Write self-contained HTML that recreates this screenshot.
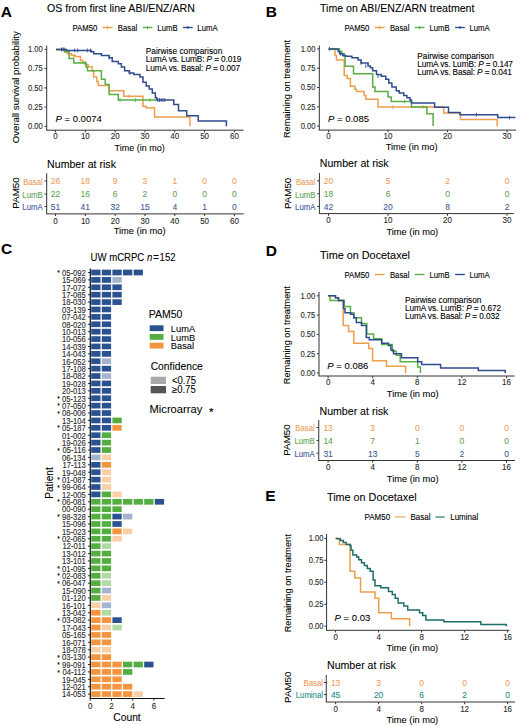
<!DOCTYPE html>
<html><head><meta charset="utf-8"><style>
html,body{margin:0;padding:0;background:#fff;}
svg{display:block;font-family:"Liberation Sans", sans-serif;}
</style></head><body>
<svg width="520" height="726" viewBox="0 0 520 726">
<rect width="520" height="726" fill="#fff"/>
<text x="0.8" y="16.5" font-size="15.5" fill="#000" stroke="#000" stroke-width="0.08" text-anchor="start" font-weight="bold" >A</text>
<text x="47.1" y="11.5" font-size="10.6" fill="#000" stroke="#000" stroke-width="0.08" text-anchor="start" font-weight="normal" >OS from first line ABI/ENZ/ARN</text>
<text transform="translate(72.4,30.508) scale(1,1.12)" x="0" y="0" font-size="7.8" fill="#000" stroke="#000" stroke-width="0.1" text-anchor="start" font-weight="normal" >PAM50</text>
<line x1="102.7" y1="27.5" x2="112.4" y2="27.5" stroke="#EE9E4C" stroke-width="1.4"/>
<line x1="107.55" y1="25.9" x2="107.55" y2="29.1" stroke="#EE9E4C" stroke-width="1.0"/>
<text transform="translate(117.8,30.508) scale(1,1.12)" x="0" y="0" font-size="7.8" fill="#000" stroke="#000" stroke-width="0.1" text-anchor="start" font-weight="normal" >Basal</text>
<line x1="142.7" y1="27.5" x2="152.39999999999998" y2="27.5" stroke="#58AF44" stroke-width="1.4"/>
<line x1="147.54999999999998" y1="25.9" x2="147.54999999999998" y2="29.1" stroke="#58AF44" stroke-width="1.0"/>
<text transform="translate(157.3,30.508) scale(1,1.12)" x="0" y="0" font-size="7.8" fill="#000" stroke="#000" stroke-width="0.1" text-anchor="start" font-weight="normal" >LumB</text>
<line x1="183.0" y1="27.5" x2="192.7" y2="27.5" stroke="#2F4C8E" stroke-width="1.4"/>
<line x1="187.85" y1="25.9" x2="187.85" y2="29.1" stroke="#2F4C8E" stroke-width="1.0"/>
<text transform="translate(197.3,30.508) scale(1,1.12)" x="0" y="0" font-size="7.8" fill="#000" stroke="#000" stroke-width="0.1" text-anchor="start" font-weight="normal" >LumA</text>
<text transform="translate(19.0,87.2) rotate(-90)" font-size="9.6" fill="#000" stroke="#000" stroke-width="0.08" text-anchor="middle">Overall survival probability</text>
<line x1="46.7" y1="45.5" x2="46.7" y2="130.2" stroke="#333333" stroke-width="1.0"/>
<line x1="44.5" y1="49.4" x2="46.7" y2="49.4" stroke="#333333" stroke-width="1.0"/>
<text transform="translate(42.7,52.236) scale(1,1.12)" x="0" y="0" font-size="7.6" fill="#2A2A2A" stroke="#2A2A2A" stroke-width="0.1" text-anchor="end" font-weight="normal" >1.00</text>
<line x1="44.5" y1="68.65" x2="46.7" y2="68.65" stroke="#333333" stroke-width="1.0"/>
<text transform="translate(42.7,71.486) scale(1,1.12)" x="0" y="0" font-size="7.6" fill="#2A2A2A" stroke="#2A2A2A" stroke-width="0.1" text-anchor="end" font-weight="normal" >0.75</text>
<line x1="44.5" y1="87.9" x2="46.7" y2="87.9" stroke="#333333" stroke-width="1.0"/>
<text transform="translate(42.7,90.736) scale(1,1.12)" x="0" y="0" font-size="7.6" fill="#2A2A2A" stroke="#2A2A2A" stroke-width="0.1" text-anchor="end" font-weight="normal" >0.50</text>
<line x1="44.5" y1="107.15" x2="46.7" y2="107.15" stroke="#333333" stroke-width="1.0"/>
<text transform="translate(42.7,109.986) scale(1,1.12)" x="0" y="0" font-size="7.6" fill="#2A2A2A" stroke="#2A2A2A" stroke-width="0.1" text-anchor="end" font-weight="normal" >0.25</text>
<line x1="44.5" y1="126.4" x2="46.7" y2="126.4" stroke="#333333" stroke-width="1.0"/>
<text transform="translate(42.7,129.236) scale(1,1.12)" x="0" y="0" font-size="7.6" fill="#2A2A2A" stroke="#2A2A2A" stroke-width="0.1" text-anchor="end" font-weight="normal" >0.00</text>
<line x1="46.2" y1="130.2" x2="243.5" y2="130.2" stroke="#333333" stroke-width="1.0"/>
<line x1="55.5" y1="130.2" x2="55.5" y2="132.39999999999998" stroke="#333333" stroke-width="1.0"/>
<text transform="translate(55.5,139.28) scale(1,1.12)" x="0" y="0" font-size="8" fill="#2A2A2A" stroke="#2A2A2A" stroke-width="0.1" text-anchor="middle" font-weight="normal" >0</text>
<line x1="85.32" y1="130.2" x2="85.32" y2="132.39999999999998" stroke="#333333" stroke-width="1.0"/>
<text transform="translate(85.32,139.28) scale(1,1.12)" x="0" y="0" font-size="8" fill="#2A2A2A" stroke="#2A2A2A" stroke-width="0.1" text-anchor="middle" font-weight="normal" >10</text>
<line x1="115.14" y1="130.2" x2="115.14" y2="132.39999999999998" stroke="#333333" stroke-width="1.0"/>
<text transform="translate(115.14,139.28) scale(1,1.12)" x="0" y="0" font-size="8" fill="#2A2A2A" stroke="#2A2A2A" stroke-width="0.1" text-anchor="middle" font-weight="normal" >20</text>
<line x1="144.96" y1="130.2" x2="144.96" y2="132.39999999999998" stroke="#333333" stroke-width="1.0"/>
<text transform="translate(144.96,139.28) scale(1,1.12)" x="0" y="0" font-size="8" fill="#2A2A2A" stroke="#2A2A2A" stroke-width="0.1" text-anchor="middle" font-weight="normal" >30</text>
<line x1="174.78" y1="130.2" x2="174.78" y2="132.39999999999998" stroke="#333333" stroke-width="1.0"/>
<text transform="translate(174.78,139.28) scale(1,1.12)" x="0" y="0" font-size="8" fill="#2A2A2A" stroke="#2A2A2A" stroke-width="0.1" text-anchor="middle" font-weight="normal" >40</text>
<line x1="204.6" y1="130.2" x2="204.6" y2="132.39999999999998" stroke="#333333" stroke-width="1.0"/>
<text transform="translate(204.6,139.28) scale(1,1.12)" x="0" y="0" font-size="8" fill="#2A2A2A" stroke="#2A2A2A" stroke-width="0.1" text-anchor="middle" font-weight="normal" >50</text>
<line x1="234.42000000000002" y1="130.2" x2="234.42000000000002" y2="132.39999999999998" stroke="#333333" stroke-width="1.0"/>
<text transform="translate(234.42000000000002,139.28) scale(1,1.12)" x="0" y="0" font-size="8" fill="#2A2A2A" stroke="#2A2A2A" stroke-width="0.1" text-anchor="middle" font-weight="normal" >60</text>
<text transform="translate(139.6,150.5) scale(1,1.06)" x="0" y="0" font-size="9" fill="#000" stroke="#000" stroke-width="0.08" text-anchor="middle" font-weight="normal" >Time (in mo)</text>
<text transform="translate(145.8,53.8) scale(1,1.12)" x="0" y="0" font-size="8.3" fill="#000" stroke="#000" stroke-width="0.1" text-anchor="start" font-weight="normal" >Pairwise comparison</text>
<text transform="translate(145.8,62.3) scale(1,1.12)" x="0" y="0" font-size="8.3" fill="#000" stroke="#000" stroke-width="0.1" text-anchor="start" font-weight="normal" textLength="95.5">LumA vs. LumB: <tspan font-style="italic">P</tspan> = 0.019</text>
<text transform="translate(145.8,70.8) scale(1,1.12)" x="0" y="0" font-size="8.3" fill="#000" stroke="#000" stroke-width="0.1" text-anchor="start" font-weight="normal" textLength="94.3">LumA vs. Basal: <tspan font-style="italic">P</tspan> = 0.007</text>
<text x="55.5" y="122.3" font-size="9.5" fill="#000" stroke="#000" stroke-width="0.08" text-anchor="start" font-weight="normal" ><tspan font-style="italic">P</tspan> = 0.0074</text>
<path d="M56,49.4 H65.5 V52.3 H67.5 V53.8 H71.5 V55.2 H75.2 V56.4 H80.4 V60.4 H82.5 V62.2 H85.5 V64.5 H88 V66.8 H92.2 V71 H93.7 V77 H96.8 V81.5 H98.3 V85.4 H109.1 V90.8 H123.8 V96.2 H143 V106.2 H146.2 V107.7 H154.6 V116.9 H190 V126.2" fill="none" stroke="#EE9E4C" stroke-width="1.5" stroke-linejoin="miter"/>
<path d="M56,49.4 H64.5 V51.5 H69.1 V58.5 H73.7 V63 H86 V67 H87.5 V70.8 H101.4 V79.2 H105.2 V84.6 H109.1 V94.6 H118.3 V100 H156" fill="none" stroke="#58AF44" stroke-width="1.5" stroke-linejoin="miter"/>
<path d="M56,49.4 H66.5 V50.4 H91.2 V51.8 H93.7 V53.8 H101.4 V55.4 H109.1 V57.7 H112.2 V61.5 H118.3 V63.8 H121.4 V67 H124.6 V70.8 H129.2 V73 H133.8 V74.6 H140 V77 H143 V82.3 H146.2 V86 H149.2 V89 H152.3 V93 H155.4 V97.7 H156.9 V100 H173.8 V104.6 H178.5 V110.7 H186.7 V115.7 H198.2 V121 H226.4 V126.2" fill="none" stroke="#2F4C8E" stroke-width="1.5" stroke-linejoin="miter"/>
<line x1="61.5" y1="47.5" x2="61.5" y2="51.3" stroke="#2F4C8E" stroke-width="0.9"/>
<line x1="63.1" y1="47.5" x2="63.1" y2="51.3" stroke="#2F4C8E" stroke-width="0.9"/>
<line x1="64.2" y1="47.5" x2="64.2" y2="51.3" stroke="#2F4C8E" stroke-width="0.9"/>
<line x1="74.6" y1="48.5" x2="74.6" y2="52.3" stroke="#2F4C8E" stroke-width="0.9"/>
<line x1="77.7" y1="48.5" x2="77.7" y2="52.3" stroke="#2F4C8E" stroke-width="0.9"/>
<line x1="87.3" y1="48.5" x2="87.3" y2="52.3" stroke="#2F4C8E" stroke-width="0.9"/>
<line x1="90.4" y1="48.5" x2="90.4" y2="52.3" stroke="#2F4C8E" stroke-width="0.9"/>
<line x1="109.1" y1="55.800000000000004" x2="109.1" y2="59.6" stroke="#2F4C8E" stroke-width="0.9"/>
<line x1="130" y1="71.1" x2="130" y2="74.9" stroke="#2F4C8E" stroke-width="0.9"/>
<line x1="157.8" y1="98.1" x2="157.8" y2="101.9" stroke="#2F4C8E" stroke-width="0.9"/>
<line x1="159.5" y1="98.1" x2="159.5" y2="101.9" stroke="#2F4C8E" stroke-width="0.9"/>
<line x1="161.2" y1="98.1" x2="161.2" y2="101.9" stroke="#2F4C8E" stroke-width="0.9"/>
<line x1="163" y1="98.1" x2="163" y2="101.9" stroke="#2F4C8E" stroke-width="0.9"/>
<line x1="164.8" y1="98.1" x2="164.8" y2="101.9" stroke="#2F4C8E" stroke-width="0.9"/>
<line x1="73.5" y1="55.1" x2="73.5" y2="58.9" stroke="#EE9E4C" stroke-width="0.9"/>
<line x1="129" y1="94.3" x2="129" y2="98.10000000000001" stroke="#EE9E4C" stroke-width="0.9"/>
<line x1="85" y1="61.1" x2="85" y2="64.9" stroke="#58AF44" stroke-width="0.9"/>
<line x1="120" y1="98.1" x2="120" y2="101.9" stroke="#58AF44" stroke-width="0.9"/>
<line x1="135.4" y1="98.1" x2="135.4" y2="101.9" stroke="#58AF44" stroke-width="0.9"/>
<line x1="150" y1="98.1" x2="150" y2="101.9" stroke="#58AF44" stroke-width="0.9"/>
<line x1="329.5" y1="47.0" x2="329.5" y2="50.8" stroke="#2F4C8E" stroke-width="0.9"/>
<line x1="340.4" y1="51.9" x2="340.4" y2="55.699999999999996" stroke="#2F4C8E" stroke-width="0.9"/>
<line x1="361" y1="61.1" x2="361" y2="64.9" stroke="#2F4C8E" stroke-width="0.9"/>
<line x1="365.8" y1="64.1" x2="365.8" y2="67.9" stroke="#2F4C8E" stroke-width="0.9"/>
<line x1="378" y1="74.3" x2="378" y2="78.10000000000001" stroke="#2F4C8E" stroke-width="0.9"/>
<line x1="476.5" y1="112.8" x2="476.5" y2="116.60000000000001" stroke="#2F4C8E" stroke-width="0.9"/>
<line x1="509.5" y1="115.69999999999999" x2="509.5" y2="119.5" stroke="#2F4C8E" stroke-width="0.9"/>
<line x1="393" y1="105.0" x2="393" y2="108.80000000000001" stroke="#EE9E4C" stroke-width="0.9"/>
<line x1="423" y1="105.0" x2="423" y2="108.80000000000001" stroke="#EE9E4C" stroke-width="0.9"/>
<line x1="339.6" y1="49.6" x2="339.6" y2="53.4" stroke="#58AF44" stroke-width="0.9"/>
<line x1="404.6" y1="99.6" x2="404.6" y2="103.4" stroke="#58AF44" stroke-width="0.9"/>
<text x="47.1" y="167.5" font-size="10.6" fill="#000" stroke="#000" stroke-width="0.08" text-anchor="start" font-weight="normal" >Number at risk</text>
<line x1="46.7" y1="173.3" x2="46.7" y2="213.9" stroke="#333333" stroke-width="1.0"/>
<line x1="46.2" y1="213.9" x2="243.7" y2="213.9" stroke="#333333" stroke-width="1.0"/>
<line x1="44.5" y1="181" x2="46.7" y2="181" stroke="#333333" stroke-width="1.0"/>
<text transform="translate(42.7,184.95) scale(1,1.12)" x="0" y="0" font-size="7.8" fill="#EE9E5C" stroke="#EE9E5C" stroke-width="0.1" text-anchor="end" font-weight="normal" >Basal</text>
<text transform="translate(55.5,184.4) scale(1,1.12)" x="0" y="0" font-size="8.5" fill="#EE9E5C" stroke="#EE9E5C" stroke-width="0.1" text-anchor="middle" font-weight="normal" >26</text>
<text transform="translate(85.32,184.4) scale(1,1.12)" x="0" y="0" font-size="8.5" fill="#EE9E5C" stroke="#EE9E5C" stroke-width="0.1" text-anchor="middle" font-weight="normal" >18</text>
<text transform="translate(115.14,184.4) scale(1,1.12)" x="0" y="0" font-size="8.5" fill="#EE9E5C" stroke="#EE9E5C" stroke-width="0.1" text-anchor="middle" font-weight="normal" >9</text>
<text transform="translate(144.96,184.4) scale(1,1.12)" x="0" y="0" font-size="8.5" fill="#EE9E5C" stroke="#EE9E5C" stroke-width="0.1" text-anchor="middle" font-weight="normal" >3</text>
<text transform="translate(174.78,184.4) scale(1,1.12)" x="0" y="0" font-size="8.5" fill="#EE9E5C" stroke="#EE9E5C" stroke-width="0.1" text-anchor="middle" font-weight="normal" >1</text>
<text transform="translate(204.6,184.4) scale(1,1.12)" x="0" y="0" font-size="8.5" fill="#EE9E5C" stroke="#EE9E5C" stroke-width="0.1" text-anchor="middle" font-weight="normal" >0</text>
<text transform="translate(234.42000000000002,184.4) scale(1,1.12)" x="0" y="0" font-size="8.5" fill="#EE9E5C" stroke="#EE9E5C" stroke-width="0.1" text-anchor="middle" font-weight="normal" >0</text>
<line x1="44.5" y1="194" x2="46.7" y2="194" stroke="#333333" stroke-width="1.0"/>
<text transform="translate(42.7,197.95) scale(1,1.12)" x="0" y="0" font-size="7.8" fill="#63A653" stroke="#63A653" stroke-width="0.1" text-anchor="end" font-weight="normal" >LumB</text>
<text transform="translate(55.5,197.4) scale(1,1.12)" x="0" y="0" font-size="8.5" fill="#63A653" stroke="#63A653" stroke-width="0.1" text-anchor="middle" font-weight="normal" >22</text>
<text transform="translate(85.32,197.4) scale(1,1.12)" x="0" y="0" font-size="8.5" fill="#63A653" stroke="#63A653" stroke-width="0.1" text-anchor="middle" font-weight="normal" >16</text>
<text transform="translate(115.14,197.4) scale(1,1.12)" x="0" y="0" font-size="8.5" fill="#63A653" stroke="#63A653" stroke-width="0.1" text-anchor="middle" font-weight="normal" >6</text>
<text transform="translate(144.96,197.4) scale(1,1.12)" x="0" y="0" font-size="8.5" fill="#63A653" stroke="#63A653" stroke-width="0.1" text-anchor="middle" font-weight="normal" >2</text>
<text transform="translate(174.78,197.4) scale(1,1.12)" x="0" y="0" font-size="8.5" fill="#63A653" stroke="#63A653" stroke-width="0.1" text-anchor="middle" font-weight="normal" >0</text>
<text transform="translate(204.6,197.4) scale(1,1.12)" x="0" y="0" font-size="8.5" fill="#63A653" stroke="#63A653" stroke-width="0.1" text-anchor="middle" font-weight="normal" >0</text>
<text transform="translate(234.42000000000002,197.4) scale(1,1.12)" x="0" y="0" font-size="8.5" fill="#63A653" stroke="#63A653" stroke-width="0.1" text-anchor="middle" font-weight="normal" >0</text>
<line x1="44.5" y1="206.5" x2="46.7" y2="206.5" stroke="#333333" stroke-width="1.0"/>
<text transform="translate(42.7,210.45) scale(1,1.12)" x="0" y="0" font-size="7.8" fill="#3F5C98" stroke="#3F5C98" stroke-width="0.1" text-anchor="end" font-weight="normal" >LumA</text>
<text transform="translate(55.5,209.9) scale(1,1.12)" x="0" y="0" font-size="8.5" fill="#3F5C98" stroke="#3F5C98" stroke-width="0.1" text-anchor="middle" font-weight="normal" >51</text>
<text transform="translate(85.32,209.9) scale(1,1.12)" x="0" y="0" font-size="8.5" fill="#3F5C98" stroke="#3F5C98" stroke-width="0.1" text-anchor="middle" font-weight="normal" >41</text>
<text transform="translate(115.14,209.9) scale(1,1.12)" x="0" y="0" font-size="8.5" fill="#3F5C98" stroke="#3F5C98" stroke-width="0.1" text-anchor="middle" font-weight="normal" >32</text>
<text transform="translate(144.96,209.9) scale(1,1.12)" x="0" y="0" font-size="8.5" fill="#3F5C98" stroke="#3F5C98" stroke-width="0.1" text-anchor="middle" font-weight="normal" >15</text>
<text transform="translate(174.78,209.9) scale(1,1.12)" x="0" y="0" font-size="8.5" fill="#3F5C98" stroke="#3F5C98" stroke-width="0.1" text-anchor="middle" font-weight="normal" >4</text>
<text transform="translate(204.6,209.9) scale(1,1.12)" x="0" y="0" font-size="8.5" fill="#3F5C98" stroke="#3F5C98" stroke-width="0.1" text-anchor="middle" font-weight="normal" >1</text>
<text transform="translate(234.42000000000002,209.9) scale(1,1.12)" x="0" y="0" font-size="8.5" fill="#3F5C98" stroke="#3F5C98" stroke-width="0.1" text-anchor="middle" font-weight="normal" >0</text>
<text transform="translate(19.0,193) rotate(-90)" font-size="9.8" fill="#000" stroke="#000" stroke-width="0.08" text-anchor="middle">PAM50</text>
<line x1="55.5" y1="213.9" x2="55.5" y2="216.1" stroke="#333333" stroke-width="1.0"/>
<text transform="translate(55.5,223.88) scale(1,1.12)" x="0" y="0" font-size="8" fill="#2A2A2A" stroke="#2A2A2A" stroke-width="0.1" text-anchor="middle" font-weight="normal" >0</text>
<line x1="85.32" y1="213.9" x2="85.32" y2="216.1" stroke="#333333" stroke-width="1.0"/>
<text transform="translate(85.32,223.88) scale(1,1.12)" x="0" y="0" font-size="8" fill="#2A2A2A" stroke="#2A2A2A" stroke-width="0.1" text-anchor="middle" font-weight="normal" >10</text>
<line x1="115.14" y1="213.9" x2="115.14" y2="216.1" stroke="#333333" stroke-width="1.0"/>
<text transform="translate(115.14,223.88) scale(1,1.12)" x="0" y="0" font-size="8" fill="#2A2A2A" stroke="#2A2A2A" stroke-width="0.1" text-anchor="middle" font-weight="normal" >20</text>
<line x1="144.96" y1="213.9" x2="144.96" y2="216.1" stroke="#333333" stroke-width="1.0"/>
<text transform="translate(144.96,223.88) scale(1,1.12)" x="0" y="0" font-size="8" fill="#2A2A2A" stroke="#2A2A2A" stroke-width="0.1" text-anchor="middle" font-weight="normal" >30</text>
<line x1="174.78" y1="213.9" x2="174.78" y2="216.1" stroke="#333333" stroke-width="1.0"/>
<text transform="translate(174.78,223.88) scale(1,1.12)" x="0" y="0" font-size="8" fill="#2A2A2A" stroke="#2A2A2A" stroke-width="0.1" text-anchor="middle" font-weight="normal" >40</text>
<line x1="204.6" y1="213.9" x2="204.6" y2="216.1" stroke="#333333" stroke-width="1.0"/>
<text transform="translate(204.6,223.88) scale(1,1.12)" x="0" y="0" font-size="8" fill="#2A2A2A" stroke="#2A2A2A" stroke-width="0.1" text-anchor="middle" font-weight="normal" >50</text>
<line x1="234.42000000000002" y1="213.9" x2="234.42000000000002" y2="216.1" stroke="#333333" stroke-width="1.0"/>
<text transform="translate(234.42000000000002,223.88) scale(1,1.12)" x="0" y="0" font-size="8" fill="#2A2A2A" stroke="#2A2A2A" stroke-width="0.1" text-anchor="middle" font-weight="normal" >60</text>
<text transform="translate(139.6,234.3) scale(1,1.06)" x="0" y="0" font-size="9.3" fill="#000" stroke="#000" stroke-width="0.08" text-anchor="middle" font-weight="normal" >Time (in mo)</text>
<text x="265.8" y="16.5" font-size="15.5" fill="#000" stroke="#000" stroke-width="0.08" text-anchor="start" font-weight="bold" >B</text>
<text x="320" y="11.5" font-size="10.6" fill="#000" stroke="#000" stroke-width="0.08" text-anchor="start" font-weight="normal" >Time on ABI/ENZ/ARN treatment</text>
<text transform="translate(344.5,30.508) scale(1,1.12)" x="0" y="0" font-size="7.8" fill="#000" stroke="#000" stroke-width="0.1" text-anchor="start" font-weight="normal" >PAM50</text>
<line x1="374.8" y1="27.5" x2="384.5" y2="27.5" stroke="#EE9E4C" stroke-width="1.4"/>
<line x1="379.65000000000003" y1="25.9" x2="379.65000000000003" y2="29.1" stroke="#EE9E4C" stroke-width="1.0"/>
<text transform="translate(389.90000000000003,30.508) scale(1,1.12)" x="0" y="0" font-size="7.8" fill="#000" stroke="#000" stroke-width="0.1" text-anchor="start" font-weight="normal" >Basal</text>
<line x1="414.8" y1="27.5" x2="424.5" y2="27.5" stroke="#58AF44" stroke-width="1.4"/>
<line x1="419.65000000000003" y1="25.9" x2="419.65000000000003" y2="29.1" stroke="#58AF44" stroke-width="1.0"/>
<text transform="translate(429.40000000000003,30.508) scale(1,1.12)" x="0" y="0" font-size="7.8" fill="#000" stroke="#000" stroke-width="0.1" text-anchor="start" font-weight="normal" >LumB</text>
<line x1="455.1" y1="27.5" x2="464.8" y2="27.5" stroke="#2F4C8E" stroke-width="1.4"/>
<line x1="459.95000000000005" y1="25.9" x2="459.95000000000005" y2="29.1" stroke="#2F4C8E" stroke-width="1.0"/>
<text transform="translate(469.40000000000003,30.508) scale(1,1.12)" x="0" y="0" font-size="7.8" fill="#000" stroke="#000" stroke-width="0.1" text-anchor="start" font-weight="normal" >LumA</text>
<text transform="translate(289.6,89.0) rotate(-90)" font-size="9.2" fill="#000" stroke="#000" stroke-width="0.08" text-anchor="middle">Remaining on treatment</text>
<line x1="319.3" y1="45.5" x2="319.3" y2="130.1" stroke="#333333" stroke-width="1.0"/>
<line x1="317.1" y1="48.9" x2="319.3" y2="48.9" stroke="#333333" stroke-width="1.0"/>
<text transform="translate(315.4,51.736) scale(1,1.12)" x="0" y="0" font-size="7.6" fill="#2A2A2A" stroke="#2A2A2A" stroke-width="0.1" text-anchor="end" font-weight="normal" >1.00</text>
<line x1="317.1" y1="68.2" x2="319.3" y2="68.2" stroke="#333333" stroke-width="1.0"/>
<text transform="translate(315.4,71.036) scale(1,1.12)" x="0" y="0" font-size="7.6" fill="#2A2A2A" stroke="#2A2A2A" stroke-width="0.1" text-anchor="end" font-weight="normal" >0.75</text>
<line x1="317.1" y1="87.5" x2="319.3" y2="87.5" stroke="#333333" stroke-width="1.0"/>
<text transform="translate(315.4,90.336) scale(1,1.12)" x="0" y="0" font-size="7.6" fill="#2A2A2A" stroke="#2A2A2A" stroke-width="0.1" text-anchor="end" font-weight="normal" >0.50</text>
<line x1="317.1" y1="106.8" x2="319.3" y2="106.8" stroke="#333333" stroke-width="1.0"/>
<text transform="translate(315.4,109.636) scale(1,1.12)" x="0" y="0" font-size="7.6" fill="#2A2A2A" stroke="#2A2A2A" stroke-width="0.1" text-anchor="end" font-weight="normal" >0.25</text>
<line x1="317.1" y1="126.1" x2="319.3" y2="126.1" stroke="#333333" stroke-width="1.0"/>
<text transform="translate(315.4,128.93599999999998) scale(1,1.12)" x="0" y="0" font-size="7.6" fill="#2A2A2A" stroke="#2A2A2A" stroke-width="0.1" text-anchor="end" font-weight="normal" >0.00</text>
<line x1="318.8" y1="130.1" x2="516" y2="130.1" stroke="#333333" stroke-width="1.0"/>
<line x1="328.5" y1="130.1" x2="328.5" y2="132.29999999999998" stroke="#333333" stroke-width="1.0"/>
<text transform="translate(328.5,139.28) scale(1,1.12)" x="0" y="0" font-size="8" fill="#2A2A2A" stroke="#2A2A2A" stroke-width="0.1" text-anchor="middle" font-weight="normal" >0</text>
<line x1="388.0" y1="130.1" x2="388.0" y2="132.29999999999998" stroke="#333333" stroke-width="1.0"/>
<text transform="translate(388.0,139.28) scale(1,1.12)" x="0" y="0" font-size="8" fill="#2A2A2A" stroke="#2A2A2A" stroke-width="0.1" text-anchor="middle" font-weight="normal" >10</text>
<line x1="447.5" y1="130.1" x2="447.5" y2="132.29999999999998" stroke="#333333" stroke-width="1.0"/>
<text transform="translate(447.5,139.28) scale(1,1.12)" x="0" y="0" font-size="8" fill="#2A2A2A" stroke="#2A2A2A" stroke-width="0.1" text-anchor="middle" font-weight="normal" >20</text>
<line x1="507.0" y1="130.1" x2="507.0" y2="132.29999999999998" stroke="#333333" stroke-width="1.0"/>
<text transform="translate(507.0,139.28) scale(1,1.12)" x="0" y="0" font-size="8" fill="#2A2A2A" stroke="#2A2A2A" stroke-width="0.1" text-anchor="middle" font-weight="normal" >30</text>
<text transform="translate(411.6,150) scale(1,1.06)" x="0" y="0" font-size="9.3" fill="#000" stroke="#000" stroke-width="0.08" text-anchor="middle" font-weight="normal" >Time (in mo)</text>
<text transform="translate(417.3,58.8) scale(1,1.12)" x="0" y="0" font-size="8.3" fill="#000" stroke="#000" stroke-width="0.1" text-anchor="start" font-weight="normal" >Pairwise comparison</text>
<text transform="translate(417.3,66.89999999999999) scale(1,1.12)" x="0" y="0" font-size="8.3" fill="#000" stroke="#000" stroke-width="0.1" text-anchor="start" font-weight="normal" textLength="95.7">LumA vs. LumB: <tspan font-style="italic">P</tspan> = 0.147</text>
<text transform="translate(417.3,75.0) scale(1,1.12)" x="0" y="0" font-size="8.3" fill="#000" stroke="#000" stroke-width="0.1" text-anchor="start" font-weight="normal" textLength="94.5">LumA vs. Basal: <tspan font-style="italic">P</tspan> = 0.041</text>
<text x="328" y="122.3" font-size="9.5" fill="#000" stroke="#000" stroke-width="0.08" text-anchor="start" font-weight="normal" ><tspan font-style="italic">P</tspan> = 0.085</text>
<path d="M328.5,48.9 H335 V55.4 H336.5 V60 H344.2 V75.4 H347.3 V78.5 H350.4 V86.2 H355 V89.2 H356.5 V91.5 H364.2 V95.4 H365.8 V99.2 H378.1 V106.9 H443.8 V113 H460.5 V119.4 H497.2 V126.6" fill="none" stroke="#EE9E4C" stroke-width="1.5" stroke-linejoin="miter"/>
<path d="M328.5,48.9 H339.6 V51.5 H341.9 V53.8 H344.2 V56.2 H345 V66.2 H353.5 V73.8 H372.7 V86.9 H375 V91.5 H388.1 V97 H391.2 V101.5 H411.5 V106.9 H426.9 V113.8 H433.1 V126.1" fill="none" stroke="#58AF44" stroke-width="1.5" stroke-linejoin="miter"/>
<path d="M328.5,48.9 H338.1 V51.5 H339.6 V53.8 H342.7 V55.4 H345.8 V56.2 H351.9 V57.7 H358.1 V60 H361.2 V63 H368.1 V66 H370.4 V67.7 H372.7 V70.8 H376.5 V74.6 H381.2 V76.2 H385.8 V79.2 H388.8 V83 H391.9 V87 H396.2 V90.8 H399.2 V93 H403.8 V95.4 H406.9 V97.7 H410 V100 H411.5 V103 H434.6 V107.3 H448.5 V112.5 H460 V114.7 H497.7 V117.6 H515.4" fill="none" stroke="#2F4C8E" stroke-width="1.5" stroke-linejoin="miter"/>
<text x="319.8" y="167.3" font-size="10.6" fill="#000" stroke="#000" stroke-width="0.08" text-anchor="start" font-weight="normal" >Number at risk</text>
<line x1="319.4" y1="173" x2="319.4" y2="213.6" stroke="#333333" stroke-width="1.0"/>
<line x1="318.9" y1="213.6" x2="513.8" y2="213.6" stroke="#333333" stroke-width="1.0"/>
<line x1="317.2" y1="180.8" x2="319.4" y2="180.8" stroke="#333333" stroke-width="1.0"/>
<text transform="translate(315.4,184.75) scale(1,1.12)" x="0" y="0" font-size="7.8" fill="#EE9E5C" stroke="#EE9E5C" stroke-width="0.1" text-anchor="end" font-weight="normal" >Basal</text>
<text transform="translate(328.5,184.20000000000002) scale(1,1.12)" x="0" y="0" font-size="8.5" fill="#EE9E5C" stroke="#EE9E5C" stroke-width="0.1" text-anchor="middle" font-weight="normal" >20</text>
<text transform="translate(388.0,184.20000000000002) scale(1,1.12)" x="0" y="0" font-size="8.5" fill="#EE9E5C" stroke="#EE9E5C" stroke-width="0.1" text-anchor="middle" font-weight="normal" >5</text>
<text transform="translate(447.5,184.20000000000002) scale(1,1.12)" x="0" y="0" font-size="8.5" fill="#EE9E5C" stroke="#EE9E5C" stroke-width="0.1" text-anchor="middle" font-weight="normal" >2</text>
<text transform="translate(507.0,184.20000000000002) scale(1,1.12)" x="0" y="0" font-size="8.5" fill="#EE9E5C" stroke="#EE9E5C" stroke-width="0.1" text-anchor="middle" font-weight="normal" >0</text>
<line x1="317.2" y1="193.8" x2="319.4" y2="193.8" stroke="#333333" stroke-width="1.0"/>
<text transform="translate(315.4,197.75) scale(1,1.12)" x="0" y="0" font-size="7.8" fill="#63A653" stroke="#63A653" stroke-width="0.1" text-anchor="end" font-weight="normal" >LumB</text>
<text transform="translate(328.5,197.20000000000002) scale(1,1.12)" x="0" y="0" font-size="8.5" fill="#63A653" stroke="#63A653" stroke-width="0.1" text-anchor="middle" font-weight="normal" >18</text>
<text transform="translate(388.0,197.20000000000002) scale(1,1.12)" x="0" y="0" font-size="8.5" fill="#63A653" stroke="#63A653" stroke-width="0.1" text-anchor="middle" font-weight="normal" >6</text>
<text transform="translate(447.5,197.20000000000002) scale(1,1.12)" x="0" y="0" font-size="8.5" fill="#63A653" stroke="#63A653" stroke-width="0.1" text-anchor="middle" font-weight="normal" >0</text>
<text transform="translate(507.0,197.20000000000002) scale(1,1.12)" x="0" y="0" font-size="8.5" fill="#63A653" stroke="#63A653" stroke-width="0.1" text-anchor="middle" font-weight="normal" >0</text>
<line x1="317.2" y1="206.5" x2="319.4" y2="206.5" stroke="#333333" stroke-width="1.0"/>
<text transform="translate(315.4,210.45) scale(1,1.12)" x="0" y="0" font-size="7.8" fill="#3F5C98" stroke="#3F5C98" stroke-width="0.1" text-anchor="end" font-weight="normal" >LumA</text>
<text transform="translate(328.5,209.9) scale(1,1.12)" x="0" y="0" font-size="8.5" fill="#3F5C98" stroke="#3F5C98" stroke-width="0.1" text-anchor="middle" font-weight="normal" >42</text>
<text transform="translate(388.0,209.9) scale(1,1.12)" x="0" y="0" font-size="8.5" fill="#3F5C98" stroke="#3F5C98" stroke-width="0.1" text-anchor="middle" font-weight="normal" >20</text>
<text transform="translate(447.5,209.9) scale(1,1.12)" x="0" y="0" font-size="8.5" fill="#3F5C98" stroke="#3F5C98" stroke-width="0.1" text-anchor="middle" font-weight="normal" >8</text>
<text transform="translate(507.0,209.9) scale(1,1.12)" x="0" y="0" font-size="8.5" fill="#3F5C98" stroke="#3F5C98" stroke-width="0.1" text-anchor="middle" font-weight="normal" >2</text>
<text transform="translate(290.8,193.4) rotate(-90)" font-size="9.8" fill="#000" stroke="#000" stroke-width="0.08" text-anchor="middle">PAM50</text>
<line x1="328.5" y1="213.6" x2="328.5" y2="215.8" stroke="#333333" stroke-width="1.0"/>
<text transform="translate(328.5,223.38) scale(1,1.12)" x="0" y="0" font-size="8" fill="#2A2A2A" stroke="#2A2A2A" stroke-width="0.1" text-anchor="middle" font-weight="normal" >0</text>
<line x1="388.0" y1="213.6" x2="388.0" y2="215.8" stroke="#333333" stroke-width="1.0"/>
<text transform="translate(388.0,223.38) scale(1,1.12)" x="0" y="0" font-size="8" fill="#2A2A2A" stroke="#2A2A2A" stroke-width="0.1" text-anchor="middle" font-weight="normal" >10</text>
<line x1="447.5" y1="213.6" x2="447.5" y2="215.8" stroke="#333333" stroke-width="1.0"/>
<text transform="translate(447.5,223.38) scale(1,1.12)" x="0" y="0" font-size="8" fill="#2A2A2A" stroke="#2A2A2A" stroke-width="0.1" text-anchor="middle" font-weight="normal" >20</text>
<line x1="507.0" y1="213.6" x2="507.0" y2="215.8" stroke="#333333" stroke-width="1.0"/>
<text transform="translate(507.0,223.38) scale(1,1.12)" x="0" y="0" font-size="8" fill="#2A2A2A" stroke="#2A2A2A" stroke-width="0.1" text-anchor="middle" font-weight="normal" >30</text>
<text transform="translate(412.3,235.4) scale(1,1.06)" x="0" y="0" font-size="9.3" fill="#000" stroke="#000" stroke-width="0.08" text-anchor="middle" font-weight="normal" >Time (in mo)</text>
<text x="265.8" y="256.2" font-size="15.5" fill="#000" stroke="#000" stroke-width="0.08" text-anchor="start" font-weight="bold" >D</text>
<text x="320" y="258.75" font-size="10.85" fill="#000" stroke="#000" stroke-width="0.08" text-anchor="start" font-weight="normal" >Time on Docetaxel</text>
<text transform="translate(344.5,277.508) scale(1,1.12)" x="0" y="0" font-size="7.8" fill="#000" stroke="#000" stroke-width="0.1" text-anchor="start" font-weight="normal" >PAM50</text>
<line x1="374.8" y1="274.5" x2="384.5" y2="274.5" stroke="#EE9E4C" stroke-width="1.4"/>
<text transform="translate(389.90000000000003,277.508) scale(1,1.12)" x="0" y="0" font-size="7.8" fill="#000" stroke="#000" stroke-width="0.1" text-anchor="start" font-weight="normal" >Basal</text>
<line x1="414.8" y1="274.5" x2="424.5" y2="274.5" stroke="#58AF44" stroke-width="1.4"/>
<text transform="translate(429.40000000000003,277.508) scale(1,1.12)" x="0" y="0" font-size="7.8" fill="#000" stroke="#000" stroke-width="0.1" text-anchor="start" font-weight="normal" >LumB</text>
<line x1="455.1" y1="274.5" x2="464.8" y2="274.5" stroke="#2F4C8E" stroke-width="1.4"/>
<text transform="translate(469.40000000000003,277.508) scale(1,1.12)" x="0" y="0" font-size="7.8" fill="#000" stroke="#000" stroke-width="0.1" text-anchor="start" font-weight="normal" >LumA</text>
<text transform="translate(290.1,335.1) rotate(-90)" font-size="9.2" fill="#000" stroke="#000" stroke-width="0.08" text-anchor="middle">Remaining on treatment</text>
<line x1="319" y1="292" x2="319" y2="376" stroke="#333333" stroke-width="1.0"/>
<line x1="316.8" y1="295.8" x2="319" y2="295.8" stroke="#333333" stroke-width="1.0"/>
<text transform="translate(315.2,298.636) scale(1,1.12)" x="0" y="0" font-size="7.6" fill="#2A2A2A" stroke="#2A2A2A" stroke-width="0.1" text-anchor="end" font-weight="normal" >1.00</text>
<line x1="316.8" y1="315.1" x2="319" y2="315.1" stroke="#333333" stroke-width="1.0"/>
<text transform="translate(315.2,317.93600000000004) scale(1,1.12)" x="0" y="0" font-size="7.6" fill="#2A2A2A" stroke="#2A2A2A" stroke-width="0.1" text-anchor="end" font-weight="normal" >0.75</text>
<line x1="316.8" y1="334.4" x2="319" y2="334.4" stroke="#333333" stroke-width="1.0"/>
<text transform="translate(315.2,337.236) scale(1,1.12)" x="0" y="0" font-size="7.6" fill="#2A2A2A" stroke="#2A2A2A" stroke-width="0.1" text-anchor="end" font-weight="normal" >0.50</text>
<line x1="316.8" y1="353.7" x2="319" y2="353.7" stroke="#333333" stroke-width="1.0"/>
<text transform="translate(315.2,356.536) scale(1,1.12)" x="0" y="0" font-size="7.6" fill="#2A2A2A" stroke="#2A2A2A" stroke-width="0.1" text-anchor="end" font-weight="normal" >0.25</text>
<line x1="316.8" y1="373" x2="319" y2="373" stroke="#333333" stroke-width="1.0"/>
<text transform="translate(315.2,375.836) scale(1,1.12)" x="0" y="0" font-size="7.6" fill="#2A2A2A" stroke="#2A2A2A" stroke-width="0.1" text-anchor="end" font-weight="normal" >0.00</text>
<line x1="318.5" y1="376" x2="514.6" y2="376" stroke="#333333" stroke-width="1.0"/>
<line x1="328.1" y1="376" x2="328.1" y2="378.2" stroke="#333333" stroke-width="1.0"/>
<text transform="translate(328.1,385.38) scale(1,1.12)" x="0" y="0" font-size="8" fill="#2A2A2A" stroke="#2A2A2A" stroke-width="0.1" text-anchor="middle" font-weight="normal" >0</text>
<line x1="372.70000000000005" y1="376" x2="372.70000000000005" y2="378.2" stroke="#333333" stroke-width="1.0"/>
<text transform="translate(372.70000000000005,385.38) scale(1,1.12)" x="0" y="0" font-size="8" fill="#2A2A2A" stroke="#2A2A2A" stroke-width="0.1" text-anchor="middle" font-weight="normal" >4</text>
<line x1="417.3" y1="376" x2="417.3" y2="378.2" stroke="#333333" stroke-width="1.0"/>
<text transform="translate(417.3,385.38) scale(1,1.12)" x="0" y="0" font-size="8" fill="#2A2A2A" stroke="#2A2A2A" stroke-width="0.1" text-anchor="middle" font-weight="normal" >8</text>
<line x1="461.90000000000003" y1="376" x2="461.90000000000003" y2="378.2" stroke="#333333" stroke-width="1.0"/>
<text transform="translate(461.90000000000003,385.38) scale(1,1.12)" x="0" y="0" font-size="8" fill="#2A2A2A" stroke="#2A2A2A" stroke-width="0.1" text-anchor="middle" font-weight="normal" >12</text>
<line x1="506.5" y1="376" x2="506.5" y2="378.2" stroke="#333333" stroke-width="1.0"/>
<text transform="translate(506.5,385.38) scale(1,1.12)" x="0" y="0" font-size="8" fill="#2A2A2A" stroke="#2A2A2A" stroke-width="0.1" text-anchor="middle" font-weight="normal" >16</text>
<text transform="translate(412.7,397.2) scale(1,1.06)" x="0" y="0" font-size="9.3" fill="#000" stroke="#000" stroke-width="0.08" text-anchor="middle" font-weight="normal" >Time (in mo)</text>
<text transform="translate(405,303.0) scale(1,1.12)" x="0" y="0" font-size="8.3" fill="#000" stroke="#000" stroke-width="0.1" text-anchor="start" font-weight="normal" >Pairwise comparison</text>
<text transform="translate(405,310.9) scale(1,1.12)" x="0" y="0" font-size="8.3" fill="#000" stroke="#000" stroke-width="0.1" text-anchor="start" font-weight="normal" textLength="96.2">LumA vs. LumB: <tspan font-style="italic">P</tspan> = 0.672</text>
<text transform="translate(405,318.8) scale(1,1.12)" x="0" y="0" font-size="8.3" fill="#000" stroke="#000" stroke-width="0.1" text-anchor="start" font-weight="normal" textLength="94.5">LumA vs. Basal: <tspan font-style="italic">P</tspan> = 0.032</text>
<text x="327.3" y="368.8" font-size="9.5" fill="#000" stroke="#000" stroke-width="0.08" text-anchor="start" font-weight="normal" ><tspan font-style="italic">P</tspan> = 0.086</text>
<path d="M328.1,295.8 H335.5 V297.7 H338.5 V300.4 H343.2 V325.4 H348.5 V331.5 H353.8 V343.2 H368.75 V348.5 H372.6 V360.7 H386.5 V366.3 H405.6 V373" fill="none" stroke="#EE9E4C" stroke-width="1.5" stroke-linejoin="miter"/>
<path d="M328.1,295.8 H330 V300.4 H344.3 V306.5 H350.5 V312.7 H353.8 V317.7 H361.5 V323.5 H366.8 V334 H373.6 V338.8 H381.7 V344.6 H392.3 V351.3 H396.2 V355.2 H400.2 V361.7 H417.7 V367 H420.4 V373" fill="none" stroke="#58AF44" stroke-width="1.5" stroke-linejoin="miter"/>
<path d="M328.1,295.8 H335.5 V297.7 H338.5 V300.4 H343.5 V308.5 H345 V312.7 H350.5 V314.3 H353.8 V317.7 H356.3 V322.5 H361.5 V325.4 H366.3 V337.4 H369.2 V339.8 H381.7 V343.2 H388.5 V345.6 H390.9 V350 H393.5 V353.7 H401.5 V357.7 H417.7 V361.7 H421.7 V364.4 H440.6 V367.9 H478.3 V370.6 H505.2 V373" fill="none" stroke="#2F4C8E" stroke-width="1.5" stroke-linejoin="miter"/>
<text x="319.5" y="414.75" font-size="10.6" fill="#000" stroke="#000" stroke-width="0.08" text-anchor="start" font-weight="normal" >Number at risk</text>
<line x1="318.75" y1="420" x2="318.75" y2="460.5" stroke="#333333" stroke-width="1.0"/>
<line x1="318.25" y1="460.5" x2="515" y2="460.5" stroke="#333333" stroke-width="1.0"/>
<line x1="316.55" y1="427.5" x2="318.75" y2="427.5" stroke="#333333" stroke-width="1.0"/>
<text transform="translate(314.8,431.45) scale(1,1.12)" x="0" y="0" font-size="7.8" fill="#EE9E5C" stroke="#EE9E5C" stroke-width="0.1" text-anchor="end" font-weight="normal" >Basal</text>
<text transform="translate(328.1,430.9) scale(1,1.12)" x="0" y="0" font-size="8.5" fill="#EE9E5C" stroke="#EE9E5C" stroke-width="0.1" text-anchor="middle" font-weight="normal" >13</text>
<text transform="translate(372.70000000000005,430.9) scale(1,1.12)" x="0" y="0" font-size="8.5" fill="#EE9E5C" stroke="#EE9E5C" stroke-width="0.1" text-anchor="middle" font-weight="normal" >3</text>
<text transform="translate(417.3,430.9) scale(1,1.12)" x="0" y="0" font-size="8.5" fill="#EE9E5C" stroke="#EE9E5C" stroke-width="0.1" text-anchor="middle" font-weight="normal" >0</text>
<text transform="translate(461.90000000000003,430.9) scale(1,1.12)" x="0" y="0" font-size="8.5" fill="#EE9E5C" stroke="#EE9E5C" stroke-width="0.1" text-anchor="middle" font-weight="normal" >0</text>
<text transform="translate(506.5,430.9) scale(1,1.12)" x="0" y="0" font-size="8.5" fill="#EE9E5C" stroke="#EE9E5C" stroke-width="0.1" text-anchor="middle" font-weight="normal" >0</text>
<line x1="316.55" y1="440.5" x2="318.75" y2="440.5" stroke="#333333" stroke-width="1.0"/>
<text transform="translate(314.8,444.45) scale(1,1.12)" x="0" y="0" font-size="7.8" fill="#63A653" stroke="#63A653" stroke-width="0.1" text-anchor="end" font-weight="normal" >LumB</text>
<text transform="translate(328.1,443.9) scale(1,1.12)" x="0" y="0" font-size="8.5" fill="#63A653" stroke="#63A653" stroke-width="0.1" text-anchor="middle" font-weight="normal" >14</text>
<text transform="translate(372.70000000000005,443.9) scale(1,1.12)" x="0" y="0" font-size="8.5" fill="#63A653" stroke="#63A653" stroke-width="0.1" text-anchor="middle" font-weight="normal" >7</text>
<text transform="translate(417.3,443.9) scale(1,1.12)" x="0" y="0" font-size="8.5" fill="#63A653" stroke="#63A653" stroke-width="0.1" text-anchor="middle" font-weight="normal" >1</text>
<text transform="translate(461.90000000000003,443.9) scale(1,1.12)" x="0" y="0" font-size="8.5" fill="#63A653" stroke="#63A653" stroke-width="0.1" text-anchor="middle" font-weight="normal" >0</text>
<text transform="translate(506.5,443.9) scale(1,1.12)" x="0" y="0" font-size="8.5" fill="#63A653" stroke="#63A653" stroke-width="0.1" text-anchor="middle" font-weight="normal" >0</text>
<line x1="316.55" y1="453.25" x2="318.75" y2="453.25" stroke="#333333" stroke-width="1.0"/>
<text transform="translate(314.8,457.2) scale(1,1.12)" x="0" y="0" font-size="7.8" fill="#3F5C98" stroke="#3F5C98" stroke-width="0.1" text-anchor="end" font-weight="normal" >LumA</text>
<text transform="translate(328.1,456.65) scale(1,1.12)" x="0" y="0" font-size="8.5" fill="#3F5C98" stroke="#3F5C98" stroke-width="0.1" text-anchor="middle" font-weight="normal" >31</text>
<text transform="translate(372.70000000000005,456.65) scale(1,1.12)" x="0" y="0" font-size="8.5" fill="#3F5C98" stroke="#3F5C98" stroke-width="0.1" text-anchor="middle" font-weight="normal" >13</text>
<text transform="translate(417.3,456.65) scale(1,1.12)" x="0" y="0" font-size="8.5" fill="#3F5C98" stroke="#3F5C98" stroke-width="0.1" text-anchor="middle" font-weight="normal" >5</text>
<text transform="translate(461.90000000000003,456.65) scale(1,1.12)" x="0" y="0" font-size="8.5" fill="#3F5C98" stroke="#3F5C98" stroke-width="0.1" text-anchor="middle" font-weight="normal" >2</text>
<text transform="translate(506.5,456.65) scale(1,1.12)" x="0" y="0" font-size="8.5" fill="#3F5C98" stroke="#3F5C98" stroke-width="0.1" text-anchor="middle" font-weight="normal" >0</text>
<text transform="translate(290.3,440) rotate(-90)" font-size="9.8" fill="#000" stroke="#000" stroke-width="0.08" text-anchor="middle">PAM50</text>
<line x1="328.1" y1="460.5" x2="328.1" y2="462.7" stroke="#333333" stroke-width="1.0"/>
<text transform="translate(328.1,470.38) scale(1,1.12)" x="0" y="0" font-size="8" fill="#2A2A2A" stroke="#2A2A2A" stroke-width="0.1" text-anchor="middle" font-weight="normal" >0</text>
<line x1="372.70000000000005" y1="460.5" x2="372.70000000000005" y2="462.7" stroke="#333333" stroke-width="1.0"/>
<text transform="translate(372.70000000000005,470.38) scale(1,1.12)" x="0" y="0" font-size="8" fill="#2A2A2A" stroke="#2A2A2A" stroke-width="0.1" text-anchor="middle" font-weight="normal" >4</text>
<line x1="417.3" y1="460.5" x2="417.3" y2="462.7" stroke="#333333" stroke-width="1.0"/>
<text transform="translate(417.3,470.38) scale(1,1.12)" x="0" y="0" font-size="8" fill="#2A2A2A" stroke="#2A2A2A" stroke-width="0.1" text-anchor="middle" font-weight="normal" >8</text>
<line x1="461.90000000000003" y1="460.5" x2="461.90000000000003" y2="462.7" stroke="#333333" stroke-width="1.0"/>
<text transform="translate(461.90000000000003,470.38) scale(1,1.12)" x="0" y="0" font-size="8" fill="#2A2A2A" stroke="#2A2A2A" stroke-width="0.1" text-anchor="middle" font-weight="normal" >12</text>
<line x1="506.5" y1="460.5" x2="506.5" y2="462.7" stroke="#333333" stroke-width="1.0"/>
<text transform="translate(506.5,470.38) scale(1,1.12)" x="0" y="0" font-size="8" fill="#2A2A2A" stroke="#2A2A2A" stroke-width="0.1" text-anchor="middle" font-weight="normal" >16</text>
<text transform="translate(412.7,481.9) scale(1,1.06)" x="0" y="0" font-size="9.3" fill="#000" stroke="#000" stroke-width="0.08" text-anchor="middle" font-weight="normal" >Time (in mo)</text>
<text x="265.3" y="501.2" font-size="15.5" fill="#000" stroke="#000" stroke-width="0.08" text-anchor="start" font-weight="bold" >E</text>
<text x="327" y="500.5" font-size="10.8" fill="#000" stroke="#000" stroke-width="0.08" text-anchor="start" font-weight="normal" >Time on Docetaxel</text>
<text transform="translate(364.5,519.8) scale(1,1.12)" x="0" y="0" font-size="8" fill="#000" stroke="#000" stroke-width="0.1" text-anchor="start" font-weight="normal" >PAM50</text>
<line x1="395" y1="517" x2="405.5" y2="517" stroke="#EE9E4C" stroke-width="1.1"/>
<text transform="translate(410.5,519.8) scale(1,1.12)" x="0" y="0" font-size="8" fill="#000" stroke="#000" stroke-width="0.1" text-anchor="start" font-weight="normal" >Basal</text>
<line x1="435.3" y1="517" x2="444.9" y2="517" stroke="#1D6E68" stroke-width="1.1"/>
<text transform="translate(450.2,519.8) scale(1,1.12)" x="0" y="0" font-size="8" fill="#000" stroke="#000" stroke-width="0.1" text-anchor="start" font-weight="normal" >Luminal</text>
<text transform="translate(290.6,583.3) rotate(-90)" font-size="9.2" fill="#000" stroke="#000" stroke-width="0.08" text-anchor="middle">Remaining on treatment</text>
<line x1="326.6" y1="534" x2="326.6" y2="630.3" stroke="#333333" stroke-width="1.0"/>
<line x1="324.40000000000003" y1="538.4" x2="326.6" y2="538.4" stroke="#333333" stroke-width="1.0"/>
<text transform="translate(323.5,541.236) scale(1,1.12)" x="0" y="0" font-size="7.6" fill="#2A2A2A" stroke="#2A2A2A" stroke-width="0.1" text-anchor="end" font-weight="normal" >1.00</text>
<line x1="324.40000000000003" y1="560.35" x2="326.6" y2="560.35" stroke="#333333" stroke-width="1.0"/>
<text transform="translate(323.5,563.186) scale(1,1.12)" x="0" y="0" font-size="7.6" fill="#2A2A2A" stroke="#2A2A2A" stroke-width="0.1" text-anchor="end" font-weight="normal" >0.75</text>
<line x1="324.40000000000003" y1="582.3" x2="326.6" y2="582.3" stroke="#333333" stroke-width="1.0"/>
<text transform="translate(323.5,585.136) scale(1,1.12)" x="0" y="0" font-size="7.6" fill="#2A2A2A" stroke="#2A2A2A" stroke-width="0.1" text-anchor="end" font-weight="normal" >0.50</text>
<line x1="324.40000000000003" y1="604.25" x2="326.6" y2="604.25" stroke="#333333" stroke-width="1.0"/>
<text transform="translate(323.5,607.086) scale(1,1.12)" x="0" y="0" font-size="7.6" fill="#2A2A2A" stroke="#2A2A2A" stroke-width="0.1" text-anchor="end" font-weight="normal" >0.25</text>
<line x1="324.40000000000003" y1="626.2" x2="326.6" y2="626.2" stroke="#333333" stroke-width="1.0"/>
<text transform="translate(323.5,629.0360000000001) scale(1,1.12)" x="0" y="0" font-size="7.6" fill="#2A2A2A" stroke="#2A2A2A" stroke-width="0.1" text-anchor="end" font-weight="normal" >0.00</text>
<line x1="326.1" y1="630.3" x2="509.4" y2="630.3" stroke="#333333" stroke-width="1.0"/>
<line x1="335.6" y1="630.3" x2="335.6" y2="632.5" stroke="#333333" stroke-width="1.0"/>
<text transform="translate(335.6,639.88) scale(1,1.12)" x="0" y="0" font-size="8" fill="#2A2A2A" stroke="#2A2A2A" stroke-width="0.1" text-anchor="middle" font-weight="normal" >0</text>
<line x1="378.6" y1="630.3" x2="378.6" y2="632.5" stroke="#333333" stroke-width="1.0"/>
<text transform="translate(378.6,639.88) scale(1,1.12)" x="0" y="0" font-size="8" fill="#2A2A2A" stroke="#2A2A2A" stroke-width="0.1" text-anchor="middle" font-weight="normal" >4</text>
<line x1="421.6" y1="630.3" x2="421.6" y2="632.5" stroke="#333333" stroke-width="1.0"/>
<text transform="translate(421.6,639.88) scale(1,1.12)" x="0" y="0" font-size="8" fill="#2A2A2A" stroke="#2A2A2A" stroke-width="0.1" text-anchor="middle" font-weight="normal" >8</text>
<line x1="464.6" y1="630.3" x2="464.6" y2="632.5" stroke="#333333" stroke-width="1.0"/>
<text transform="translate(464.6,639.88) scale(1,1.12)" x="0" y="0" font-size="8" fill="#2A2A2A" stroke="#2A2A2A" stroke-width="0.1" text-anchor="middle" font-weight="normal" >12</text>
<line x1="507.6" y1="630.3" x2="507.6" y2="632.5" stroke="#333333" stroke-width="1.0"/>
<text transform="translate(507.6,639.88) scale(1,1.12)" x="0" y="0" font-size="8" fill="#2A2A2A" stroke="#2A2A2A" stroke-width="0.1" text-anchor="middle" font-weight="normal" >16</text>
<text transform="translate(412.3,651.2) scale(1,1.06)" x="0" y="0" font-size="9.3" fill="#000" stroke="#000" stroke-width="0.08" text-anchor="middle" font-weight="normal" >Time (in mo)</text>
<text x="334.6" y="621.3" font-size="9.5" fill="#000" stroke="#000" stroke-width="0.08" text-anchor="start" font-weight="normal" ><tspan font-style="italic">P</tspan> = 0.03</text>
<path d="M335.6,538.4 H339.4 V544.4 H350 V571.3 H354.8 V578 H360.6 V592 H375 V598.3 H378.8 V612.7 H391.3 V618.8 H409.6 V626.2" fill="none" stroke="#EE9E4C" stroke-width="1.5" stroke-linejoin="miter"/>
<path d="M335.6,538.4 H337.5 V538.7 H340.4 V540.6 H343.3 V542.5 H346.2 V544.4 H350 V545.4 H351 V550.2 H352.9 V555 H356.7 V557 H358.7 V559.8 H361.5 V562.7 H364.4 V565.6 H367.3 V568.5 H370.2 V571.3 H373.1 V580 H375 V585.8 H380.8 V587.7 H388.5 V591.5 H392.3 V594.4 H395.2 V598.3 H398.1 V603 H403.8 V606 H407.7 V610 H419.5 V612.7 H422.7 V615.5 H425.9 V620.1 H443.8 V621.8 H480.9 V624.4 H506.3 V626.2" fill="none" stroke="#1D6E68" stroke-width="1.5" stroke-linejoin="miter"/>
<text x="327" y="668.75" font-size="10.6" fill="#000" stroke="#000" stroke-width="0.08" text-anchor="start" font-weight="normal" >Number at risk</text>
<line x1="326.25" y1="675" x2="326.25" y2="702" stroke="#333333" stroke-width="1.0"/>
<line x1="325.75" y1="702" x2="515" y2="702" stroke="#333333" stroke-width="1.0"/>
<line x1="324.05" y1="682.5" x2="326.25" y2="682.5" stroke="#333333" stroke-width="1.0"/>
<text transform="translate(323,686.45) scale(1,1.12)" x="0" y="0" font-size="7.8" fill="#EE9E5C" stroke="#EE9E5C" stroke-width="0.1" text-anchor="end" font-weight="normal" >Basal</text>
<text transform="translate(335.6,685.9) scale(1,1.12)" x="0" y="0" font-size="8.5" fill="#EE9E5C" stroke="#EE9E5C" stroke-width="0.1" text-anchor="middle" font-weight="normal" >13</text>
<text transform="translate(378.6,685.9) scale(1,1.12)" x="0" y="0" font-size="8.5" fill="#EE9E5C" stroke="#EE9E5C" stroke-width="0.1" text-anchor="middle" font-weight="normal" >3</text>
<text transform="translate(421.6,685.9) scale(1,1.12)" x="0" y="0" font-size="8.5" fill="#EE9E5C" stroke="#EE9E5C" stroke-width="0.1" text-anchor="middle" font-weight="normal" >0</text>
<text transform="translate(464.6,685.9) scale(1,1.12)" x="0" y="0" font-size="8.5" fill="#EE9E5C" stroke="#EE9E5C" stroke-width="0.1" text-anchor="middle" font-weight="normal" >0</text>
<text transform="translate(507.6,685.9) scale(1,1.12)" x="0" y="0" font-size="8.5" fill="#EE9E5C" stroke="#EE9E5C" stroke-width="0.1" text-anchor="middle" font-weight="normal" >0</text>
<line x1="324.05" y1="694.5" x2="326.25" y2="694.5" stroke="#333333" stroke-width="1.0"/>
<text transform="translate(323,698.45) scale(1,1.12)" x="0" y="0" font-size="7.8" fill="#2A8C8A" stroke="#2A8C8A" stroke-width="0.1" text-anchor="end" font-weight="normal" >Luminal</text>
<text transform="translate(335.6,697.9) scale(1,1.12)" x="0" y="0" font-size="8.5" fill="#2A8C8A" stroke="#2A8C8A" stroke-width="0.1" text-anchor="middle" font-weight="normal" >45</text>
<text transform="translate(378.6,697.9) scale(1,1.12)" x="0" y="0" font-size="8.5" fill="#2A8C8A" stroke="#2A8C8A" stroke-width="0.1" text-anchor="middle" font-weight="normal" >20</text>
<text transform="translate(421.6,697.9) scale(1,1.12)" x="0" y="0" font-size="8.5" fill="#2A8C8A" stroke="#2A8C8A" stroke-width="0.1" text-anchor="middle" font-weight="normal" >6</text>
<text transform="translate(464.6,697.9) scale(1,1.12)" x="0" y="0" font-size="8.5" fill="#2A8C8A" stroke="#2A8C8A" stroke-width="0.1" text-anchor="middle" font-weight="normal" >2</text>
<text transform="translate(507.6,697.9) scale(1,1.12)" x="0" y="0" font-size="8.5" fill="#2A8C8A" stroke="#2A8C8A" stroke-width="0.1" text-anchor="middle" font-weight="normal" >0</text>
<text transform="translate(290.8,687.2) rotate(-90)" font-size="9.8" fill="#000" stroke="#000" stroke-width="0.08" text-anchor="middle">PAM50</text>
<line x1="335.6" y1="702" x2="335.6" y2="704.2" stroke="#333333" stroke-width="1.0"/>
<text transform="translate(335.6,711.63) scale(1,1.12)" x="0" y="0" font-size="8" fill="#2A2A2A" stroke="#2A2A2A" stroke-width="0.1" text-anchor="middle" font-weight="normal" >0</text>
<line x1="378.6" y1="702" x2="378.6" y2="704.2" stroke="#333333" stroke-width="1.0"/>
<text transform="translate(378.6,711.63) scale(1,1.12)" x="0" y="0" font-size="8" fill="#2A2A2A" stroke="#2A2A2A" stroke-width="0.1" text-anchor="middle" font-weight="normal" >4</text>
<line x1="421.6" y1="702" x2="421.6" y2="704.2" stroke="#333333" stroke-width="1.0"/>
<text transform="translate(421.6,711.63) scale(1,1.12)" x="0" y="0" font-size="8" fill="#2A2A2A" stroke="#2A2A2A" stroke-width="0.1" text-anchor="middle" font-weight="normal" >8</text>
<line x1="464.6" y1="702" x2="464.6" y2="704.2" stroke="#333333" stroke-width="1.0"/>
<text transform="translate(464.6,711.63) scale(1,1.12)" x="0" y="0" font-size="8" fill="#2A2A2A" stroke="#2A2A2A" stroke-width="0.1" text-anchor="middle" font-weight="normal" >12</text>
<line x1="507.6" y1="702" x2="507.6" y2="704.2" stroke="#333333" stroke-width="1.0"/>
<text transform="translate(507.6,711.63) scale(1,1.12)" x="0" y="0" font-size="8" fill="#2A2A2A" stroke="#2A2A2A" stroke-width="0.1" text-anchor="middle" font-weight="normal" >16</text>
<text transform="translate(412.3,722.6) scale(1,1.06)" x="0" y="0" font-size="9.3" fill="#000" stroke="#000" stroke-width="0.08" text-anchor="middle" font-weight="normal" >Time (in mo)</text>
<text x="1.0" y="254.2" font-size="15.5" fill="#000" stroke="#000" stroke-width="0.08" text-anchor="start" font-weight="bold" >C</text>
<text transform="translate(90.6,260.8) scale(1,1.06)" x="0" y="0" font-size="9.6" fill="#000" stroke="#000" stroke-width="0.08" text-anchor="start" font-weight="normal" textLength="85">UW mCRPC <tspan font-style="italic">n</tspan><tspan dx="0.9">=</tspan><tspan dx="0.9">152</tspan></text>
<line x1="87.9" y1="272.5" x2="90.3" y2="272.5" stroke="#333333" stroke-width="1.0"/>
<text transform="translate(85.7,275.8) scale(1,1.14)" x="0" y="0" font-size="7.65" fill="#2a2a2a" stroke="#2a2a2a" stroke-width="0.1" text-anchor="end" font-weight="normal" >05-092</text>
<text transform="translate(58.6,275.1) scale(1,1.12)" x="0" y="0" font-size="6.5" fill="#000" stroke="#000" stroke-width="0.1" text-anchor="middle" font-weight="normal" >*</text>
<rect x="91.20" y="269.65" width="9.30" height="5.70" fill="#2A5190"/>
<rect x="101.80" y="269.65" width="9.30" height="5.70" fill="#2A5190"/>
<rect x="112.40" y="269.65" width="9.30" height="5.70" fill="#2A5190"/>
<rect x="123.00" y="269.65" width="9.30" height="5.70" fill="#2A5190"/>
<rect x="133.60" y="269.65" width="9.30" height="5.70" fill="#2A5190"/>
<line x1="87.9" y1="279.8964912280702" x2="90.3" y2="279.8964912280702" stroke="#333333" stroke-width="1.0"/>
<text transform="translate(85.7,283.1964912280702) scale(1,1.14)" x="0" y="0" font-size="7.65" fill="#2a2a2a" stroke="#2a2a2a" stroke-width="0.1" text-anchor="end" font-weight="normal" >15-069</text>
<rect x="91.20" y="277.05" width="9.30" height="5.70" fill="#2A5190"/>
<rect x="101.80" y="277.05" width="9.30" height="5.70" fill="#2A5190"/>
<rect x="112.40" y="277.05" width="9.30" height="5.70" fill="#A4B3CF"/>
<line x1="87.9" y1="287.29298245614035" x2="90.3" y2="287.29298245614035" stroke="#333333" stroke-width="1.0"/>
<text transform="translate(85.7,290.59298245614036) scale(1,1.14)" x="0" y="0" font-size="7.65" fill="#2a2a2a" stroke="#2a2a2a" stroke-width="0.1" text-anchor="end" font-weight="normal" >17-072</text>
<rect x="91.20" y="284.44" width="9.30" height="5.70" fill="#2A5190"/>
<rect x="101.80" y="284.44" width="9.30" height="5.70" fill="#2A5190"/>
<rect x="112.40" y="284.44" width="9.30" height="5.70" fill="#2A5190"/>
<line x1="87.9" y1="294.68947368421055" x2="90.3" y2="294.68947368421055" stroke="#333333" stroke-width="1.0"/>
<text transform="translate(85.7,297.98947368421057) scale(1,1.14)" x="0" y="0" font-size="7.65" fill="#2a2a2a" stroke="#2a2a2a" stroke-width="0.1" text-anchor="end" font-weight="normal" >17-085</text>
<rect x="91.20" y="291.84" width="9.30" height="5.70" fill="#2A5190"/>
<rect x="101.80" y="291.84" width="9.30" height="5.70" fill="#2A5190"/>
<rect x="112.40" y="291.84" width="9.30" height="5.70" fill="#2A5190"/>
<line x1="87.9" y1="302.0859649122807" x2="90.3" y2="302.0859649122807" stroke="#333333" stroke-width="1.0"/>
<text transform="translate(85.7,305.3859649122807) scale(1,1.14)" x="0" y="0" font-size="7.65" fill="#2a2a2a" stroke="#2a2a2a" stroke-width="0.1" text-anchor="end" font-weight="normal" >18-030</text>
<rect x="91.20" y="299.24" width="9.30" height="5.70" fill="#2A5190"/>
<rect x="101.80" y="299.24" width="9.30" height="5.70" fill="#2A5190"/>
<rect x="112.40" y="299.24" width="9.30" height="5.70" fill="#2A5190"/>
<line x1="87.9" y1="309.4824561403509" x2="90.3" y2="309.4824561403509" stroke="#333333" stroke-width="1.0"/>
<text transform="translate(85.7,312.7824561403509) scale(1,1.14)" x="0" y="0" font-size="7.65" fill="#2a2a2a" stroke="#2a2a2a" stroke-width="0.1" text-anchor="end" font-weight="normal" >03-139</text>
<rect x="91.20" y="306.63" width="9.30" height="5.70" fill="#2A5190"/>
<rect x="101.80" y="306.63" width="9.30" height="5.70" fill="#2A5190"/>
<line x1="87.9" y1="316.87894736842105" x2="90.3" y2="316.87894736842105" stroke="#333333" stroke-width="1.0"/>
<text transform="translate(85.7,320.17894736842106) scale(1,1.14)" x="0" y="0" font-size="7.65" fill="#2a2a2a" stroke="#2a2a2a" stroke-width="0.1" text-anchor="end" font-weight="normal" >07-042</text>
<rect x="91.20" y="314.03" width="9.30" height="5.70" fill="#2A5190"/>
<rect x="101.80" y="314.03" width="9.30" height="5.70" fill="#2A5190"/>
<line x1="87.9" y1="324.27543859649126" x2="90.3" y2="324.27543859649126" stroke="#333333" stroke-width="1.0"/>
<text transform="translate(85.7,327.57543859649127) scale(1,1.14)" x="0" y="0" font-size="7.65" fill="#2a2a2a" stroke="#2a2a2a" stroke-width="0.1" text-anchor="end" font-weight="normal" >08-020</text>
<rect x="91.20" y="321.43" width="9.30" height="5.70" fill="#2A5190"/>
<rect x="101.80" y="321.43" width="9.30" height="5.70" fill="#2A5190"/>
<line x1="87.9" y1="331.6719298245614" x2="90.3" y2="331.6719298245614" stroke="#333333" stroke-width="1.0"/>
<text transform="translate(85.7,334.9719298245614) scale(1,1.14)" x="0" y="0" font-size="7.65" fill="#2a2a2a" stroke="#2a2a2a" stroke-width="0.1" text-anchor="end" font-weight="normal" >10-013</text>
<rect x="91.20" y="328.82" width="9.30" height="5.70" fill="#2A5190"/>
<rect x="101.80" y="328.82" width="9.30" height="5.70" fill="#2A5190"/>
<line x1="87.9" y1="339.0684210526316" x2="90.3" y2="339.0684210526316" stroke="#333333" stroke-width="1.0"/>
<text transform="translate(85.7,342.3684210526316) scale(1,1.14)" x="0" y="0" font-size="7.65" fill="#2a2a2a" stroke="#2a2a2a" stroke-width="0.1" text-anchor="end" font-weight="normal" >10-056</text>
<rect x="91.20" y="336.22" width="9.30" height="5.70" fill="#2A5190"/>
<rect x="101.80" y="336.22" width="9.30" height="5.70" fill="#2A5190"/>
<line x1="87.9" y1="346.46491228070175" x2="90.3" y2="346.46491228070175" stroke="#333333" stroke-width="1.0"/>
<text transform="translate(85.7,349.76491228070176) scale(1,1.14)" x="0" y="0" font-size="7.65" fill="#2a2a2a" stroke="#2a2a2a" stroke-width="0.1" text-anchor="end" font-weight="normal" >14-039</text>
<rect x="91.20" y="343.61" width="9.30" height="5.70" fill="#2A5190"/>
<rect x="101.80" y="343.61" width="9.30" height="5.70" fill="#2A5190"/>
<line x1="87.9" y1="353.86140350877196" x2="90.3" y2="353.86140350877196" stroke="#333333" stroke-width="1.0"/>
<text transform="translate(85.7,357.16140350877197) scale(1,1.14)" x="0" y="0" font-size="7.65" fill="#2a2a2a" stroke="#2a2a2a" stroke-width="0.1" text-anchor="end" font-weight="normal" >14-043</text>
<rect x="91.20" y="351.01" width="9.30" height="5.70" fill="#2A5190"/>
<rect x="101.80" y="351.01" width="9.30" height="5.70" fill="#2A5190"/>
<line x1="87.9" y1="361.2578947368421" x2="90.3" y2="361.2578947368421" stroke="#333333" stroke-width="1.0"/>
<text transform="translate(85.7,364.5578947368421) scale(1,1.14)" x="0" y="0" font-size="7.65" fill="#2a2a2a" stroke="#2a2a2a" stroke-width="0.1" text-anchor="end" font-weight="normal" >16-052</text>
<rect x="91.20" y="358.41" width="9.30" height="5.70" fill="#2A5190"/>
<rect x="101.80" y="358.41" width="9.30" height="5.70" fill="#A4B3CF"/>
<line x1="87.9" y1="368.6543859649123" x2="90.3" y2="368.6543859649123" stroke="#333333" stroke-width="1.0"/>
<text transform="translate(85.7,371.9543859649123) scale(1,1.14)" x="0" y="0" font-size="7.65" fill="#2a2a2a" stroke="#2a2a2a" stroke-width="0.1" text-anchor="end" font-weight="normal" >17-108</text>
<rect x="91.20" y="365.80" width="9.30" height="5.70" fill="#2A5190"/>
<rect x="101.80" y="365.80" width="9.30" height="5.70" fill="#2A5190"/>
<line x1="87.9" y1="376.05087719298245" x2="90.3" y2="376.05087719298245" stroke="#333333" stroke-width="1.0"/>
<text transform="translate(85.7,379.35087719298247) scale(1,1.14)" x="0" y="0" font-size="7.65" fill="#2a2a2a" stroke="#2a2a2a" stroke-width="0.1" text-anchor="end" font-weight="normal" >18-082</text>
<rect x="91.20" y="373.20" width="9.30" height="5.70" fill="#2A5190"/>
<rect x="101.80" y="373.20" width="9.30" height="5.70" fill="#A4B3CF"/>
<line x1="87.9" y1="383.44736842105266" x2="90.3" y2="383.44736842105266" stroke="#333333" stroke-width="1.0"/>
<text transform="translate(85.7,386.74736842105267) scale(1,1.14)" x="0" y="0" font-size="7.65" fill="#2a2a2a" stroke="#2a2a2a" stroke-width="0.1" text-anchor="end" font-weight="normal" >19-028</text>
<rect x="91.20" y="380.60" width="9.30" height="5.70" fill="#2A5190"/>
<rect x="101.80" y="380.60" width="9.30" height="5.70" fill="#2A5190"/>
<line x1="87.9" y1="390.8438596491228" x2="90.3" y2="390.8438596491228" stroke="#333333" stroke-width="1.0"/>
<text transform="translate(85.7,394.1438596491228) scale(1,1.14)" x="0" y="0" font-size="7.65" fill="#2a2a2a" stroke="#2a2a2a" stroke-width="0.1" text-anchor="end" font-weight="normal" >20-013</text>
<rect x="91.20" y="387.99" width="9.30" height="5.70" fill="#2A5190"/>
<rect x="101.80" y="387.99" width="9.30" height="5.70" fill="#2A5190"/>
<line x1="87.9" y1="398.240350877193" x2="90.3" y2="398.240350877193" stroke="#333333" stroke-width="1.0"/>
<text transform="translate(85.7,401.540350877193) scale(1,1.14)" x="0" y="0" font-size="7.65" fill="#2a2a2a" stroke="#2a2a2a" stroke-width="0.1" text-anchor="end" font-weight="normal" >05-123</text>
<text transform="translate(58.6,400.84035087719303) scale(1,1.12)" x="0" y="0" font-size="6.5" fill="#000" stroke="#000" stroke-width="0.1" text-anchor="middle" font-weight="normal" >*</text>
<rect x="91.20" y="395.39" width="9.30" height="5.70" fill="#2A5190"/>
<rect x="101.80" y="395.39" width="9.30" height="5.70" fill="#2A5190"/>
<line x1="87.9" y1="405.6368421052632" x2="90.3" y2="405.6368421052632" stroke="#333333" stroke-width="1.0"/>
<text transform="translate(85.7,408.9368421052632) scale(1,1.14)" x="0" y="0" font-size="7.65" fill="#2a2a2a" stroke="#2a2a2a" stroke-width="0.1" text-anchor="end" font-weight="normal" >07-050</text>
<text transform="translate(58.6,408.23684210526324) scale(1,1.12)" x="0" y="0" font-size="6.5" fill="#000" stroke="#000" stroke-width="0.1" text-anchor="middle" font-weight="normal" >*</text>
<rect x="91.20" y="402.79" width="9.30" height="5.70" fill="#2A5190"/>
<rect x="101.80" y="402.79" width="9.30" height="5.70" fill="#2A5190"/>
<line x1="87.9" y1="413.03333333333336" x2="90.3" y2="413.03333333333336" stroke="#333333" stroke-width="1.0"/>
<text transform="translate(85.7,416.33333333333337) scale(1,1.14)" x="0" y="0" font-size="7.65" fill="#2a2a2a" stroke="#2a2a2a" stroke-width="0.1" text-anchor="end" font-weight="normal" >08-006</text>
<text transform="translate(58.6,415.6333333333334) scale(1,1.12)" x="0" y="0" font-size="6.5" fill="#000" stroke="#000" stroke-width="0.1" text-anchor="middle" font-weight="normal" >*</text>
<rect x="91.20" y="410.18" width="9.30" height="5.70" fill="#2A5190"/>
<rect x="101.80" y="410.18" width="9.30" height="5.70" fill="#2A5190"/>
<line x1="87.9" y1="420.4298245614035" x2="90.3" y2="420.4298245614035" stroke="#333333" stroke-width="1.0"/>
<text transform="translate(85.7,423.7298245614035) scale(1,1.14)" x="0" y="0" font-size="7.65" fill="#2a2a2a" stroke="#2a2a2a" stroke-width="0.1" text-anchor="end" font-weight="normal" >13-104</text>
<rect x="91.20" y="417.58" width="9.30" height="5.70" fill="#2A5190"/>
<rect x="101.80" y="417.58" width="9.30" height="5.70" fill="#2A5190"/>
<rect x="112.40" y="417.58" width="9.30" height="5.70" fill="#53AD41"/>
<line x1="87.9" y1="427.8263157894737" x2="90.3" y2="427.8263157894737" stroke="#333333" stroke-width="1.0"/>
<text transform="translate(85.7,431.1263157894737) scale(1,1.14)" x="0" y="0" font-size="7.65" fill="#2a2a2a" stroke="#2a2a2a" stroke-width="0.1" text-anchor="end" font-weight="normal" >05-187</text>
<text transform="translate(58.6,430.42631578947373) scale(1,1.12)" x="0" y="0" font-size="6.5" fill="#000" stroke="#000" stroke-width="0.1" text-anchor="middle" font-weight="normal" >*</text>
<rect x="91.20" y="424.98" width="9.30" height="5.70" fill="#2A5190"/>
<rect x="101.80" y="424.98" width="9.30" height="5.70" fill="#2A5190"/>
<rect x="112.40" y="424.98" width="9.30" height="5.70" fill="#F3943E"/>
<line x1="87.9" y1="435.2228070175439" x2="90.3" y2="435.2228070175439" stroke="#333333" stroke-width="1.0"/>
<text transform="translate(85.7,438.5228070175439) scale(1,1.14)" x="0" y="0" font-size="7.65" fill="#2a2a2a" stroke="#2a2a2a" stroke-width="0.1" text-anchor="end" font-weight="normal" >01-002</text>
<rect x="91.20" y="432.37" width="9.30" height="5.70" fill="#2A5190"/>
<rect x="101.80" y="432.37" width="9.30" height="5.70" fill="#53AD41"/>
<line x1="87.9" y1="442.61929824561406" x2="90.3" y2="442.61929824561406" stroke="#333333" stroke-width="1.0"/>
<text transform="translate(85.7,445.9192982456141) scale(1,1.14)" x="0" y="0" font-size="7.65" fill="#2a2a2a" stroke="#2a2a2a" stroke-width="0.1" text-anchor="end" font-weight="normal" >19-026</text>
<rect x="91.20" y="439.77" width="9.30" height="5.70" fill="#2A5190"/>
<rect x="101.80" y="439.77" width="9.30" height="5.70" fill="#53AD41"/>
<line x1="87.9" y1="450.0157894736842" x2="90.3" y2="450.0157894736842" stroke="#333333" stroke-width="1.0"/>
<text transform="translate(85.7,453.3157894736842) scale(1,1.14)" x="0" y="0" font-size="7.65" fill="#2a2a2a" stroke="#2a2a2a" stroke-width="0.1" text-anchor="end" font-weight="normal" >05-116</text>
<text transform="translate(58.6,452.61578947368423) scale(1,1.12)" x="0" y="0" font-size="6.5" fill="#000" stroke="#000" stroke-width="0.1" text-anchor="middle" font-weight="normal" >*</text>
<rect x="91.20" y="447.17" width="9.30" height="5.70" fill="#2A5190"/>
<rect x="101.80" y="447.17" width="9.30" height="5.70" fill="#53AD41"/>
<line x1="87.9" y1="457.4122807017544" x2="90.3" y2="457.4122807017544" stroke="#333333" stroke-width="1.0"/>
<text transform="translate(85.7,460.7122807017544) scale(1,1.14)" x="0" y="0" font-size="7.65" fill="#2a2a2a" stroke="#2a2a2a" stroke-width="0.1" text-anchor="end" font-weight="normal" >06-134</text>
<rect x="91.20" y="454.56" width="9.30" height="5.70" fill="#A4B3CF"/>
<rect x="101.80" y="454.56" width="9.30" height="5.70" fill="#F8CFA7"/>
<line x1="87.9" y1="464.8087719298246" x2="90.3" y2="464.8087719298246" stroke="#333333" stroke-width="1.0"/>
<text transform="translate(85.7,468.1087719298246) scale(1,1.14)" x="0" y="0" font-size="7.65" fill="#2a2a2a" stroke="#2a2a2a" stroke-width="0.1" text-anchor="end" font-weight="normal" >17-113</text>
<rect x="91.20" y="461.96" width="9.30" height="5.70" fill="#2A5190"/>
<rect x="101.80" y="461.96" width="9.30" height="5.70" fill="#F3943E"/>
<line x1="87.9" y1="472.20526315789476" x2="90.3" y2="472.20526315789476" stroke="#333333" stroke-width="1.0"/>
<text transform="translate(85.7,475.5052631578948) scale(1,1.14)" x="0" y="0" font-size="7.65" fill="#2a2a2a" stroke="#2a2a2a" stroke-width="0.1" text-anchor="end" font-weight="normal" >19-048</text>
<rect x="91.20" y="469.36" width="9.30" height="5.70" fill="#2A5190"/>
<rect x="101.80" y="469.36" width="9.30" height="5.70" fill="#F8CFA7"/>
<line x1="87.9" y1="479.6017543859649" x2="90.3" y2="479.6017543859649" stroke="#333333" stroke-width="1.0"/>
<text transform="translate(85.7,482.9017543859649) scale(1,1.14)" x="0" y="0" font-size="7.65" fill="#2a2a2a" stroke="#2a2a2a" stroke-width="0.1" text-anchor="end" font-weight="normal" >01-087</text>
<text transform="translate(58.6,482.20175438596493) scale(1,1.12)" x="0" y="0" font-size="6.5" fill="#000" stroke="#000" stroke-width="0.1" text-anchor="middle" font-weight="normal" >*</text>
<rect x="91.20" y="476.75" width="9.30" height="5.70" fill="#2A5190"/>
<rect x="101.80" y="476.75" width="9.30" height="5.70" fill="#F8CFA7"/>
<line x1="87.9" y1="486.9982456140351" x2="90.3" y2="486.9982456140351" stroke="#333333" stroke-width="1.0"/>
<text transform="translate(85.7,490.2982456140351) scale(1,1.14)" x="0" y="0" font-size="7.65" fill="#2a2a2a" stroke="#2a2a2a" stroke-width="0.1" text-anchor="end" font-weight="normal" >99-064</text>
<text transform="translate(58.6,489.59824561403514) scale(1,1.12)" x="0" y="0" font-size="6.5" fill="#000" stroke="#000" stroke-width="0.1" text-anchor="middle" font-weight="normal" >*</text>
<rect x="91.20" y="484.15" width="9.30" height="5.70" fill="#2A5190"/>
<rect x="101.80" y="484.15" width="9.30" height="5.70" fill="#F8CFA7"/>
<line x1="87.9" y1="494.3947368421053" x2="90.3" y2="494.3947368421053" stroke="#333333" stroke-width="1.0"/>
<text transform="translate(85.7,497.6947368421053) scale(1,1.14)" x="0" y="0" font-size="7.65" fill="#2a2a2a" stroke="#2a2a2a" stroke-width="0.1" text-anchor="end" font-weight="normal" >12-005</text>
<rect x="91.20" y="491.54" width="9.30" height="5.70" fill="#2A5190"/>
<rect x="101.80" y="491.54" width="9.30" height="5.70" fill="#53AD41"/>
<rect x="112.40" y="491.54" width="9.30" height="5.70" fill="#F8CFA7"/>
<line x1="87.9" y1="501.79122807017546" x2="90.3" y2="501.79122807017546" stroke="#333333" stroke-width="1.0"/>
<text transform="translate(85.7,505.0912280701755) scale(1,1.14)" x="0" y="0" font-size="7.65" fill="#2a2a2a" stroke="#2a2a2a" stroke-width="0.1" text-anchor="end" font-weight="normal" >06-081</text>
<text transform="translate(58.6,504.3912280701755) scale(1,1.12)" x="0" y="0" font-size="6.5" fill="#000" stroke="#000" stroke-width="0.1" text-anchor="middle" font-weight="normal" >*</text>
<rect x="91.20" y="498.94" width="9.30" height="5.70" fill="#53AD41"/>
<rect x="101.80" y="498.94" width="9.30" height="5.70" fill="#53AD41"/>
<rect x="112.40" y="498.94" width="9.30" height="5.70" fill="#53AD41"/>
<rect x="123.00" y="498.94" width="9.30" height="5.70" fill="#53AD41"/>
<rect x="133.60" y="498.94" width="9.30" height="5.70" fill="#53AD41"/>
<rect x="144.20" y="498.94" width="9.30" height="5.70" fill="#53AD41"/>
<rect x="154.80" y="498.94" width="9.30" height="5.70" fill="#2A5190"/>
<line x1="87.9" y1="509.1877192982456" x2="90.3" y2="509.1877192982456" stroke="#333333" stroke-width="1.0"/>
<text transform="translate(85.7,512.4877192982456) scale(1,1.14)" x="0" y="0" font-size="7.65" fill="#2a2a2a" stroke="#2a2a2a" stroke-width="0.1" text-anchor="end" font-weight="normal" >00-090</text>
<rect x="91.20" y="506.34" width="9.30" height="5.70" fill="#53AD41"/>
<rect x="101.80" y="506.34" width="9.30" height="5.70" fill="#53AD41"/>
<rect x="112.40" y="506.34" width="9.30" height="5.70" fill="#53AD41"/>
<line x1="87.9" y1="516.5842105263158" x2="90.3" y2="516.5842105263158" stroke="#333333" stroke-width="1.0"/>
<text transform="translate(85.7,519.8842105263158) scale(1,1.14)" x="0" y="0" font-size="7.65" fill="#2a2a2a" stroke="#2a2a2a" stroke-width="0.1" text-anchor="end" font-weight="normal" >98-328</text>
<text transform="translate(58.6,519.1842105263158) scale(1,1.12)" x="0" y="0" font-size="6.5" fill="#000" stroke="#000" stroke-width="0.1" text-anchor="middle" font-weight="normal" >*</text>
<rect x="91.20" y="513.73" width="9.30" height="5.70" fill="#53AD41"/>
<rect x="101.80" y="513.73" width="9.30" height="5.70" fill="#53AD41"/>
<rect x="112.40" y="513.73" width="9.30" height="5.70" fill="#2A5190"/>
<rect x="123.00" y="513.73" width="9.30" height="5.70" fill="#A4B3CF"/>
<line x1="87.9" y1="523.980701754386" x2="90.3" y2="523.980701754386" stroke="#333333" stroke-width="1.0"/>
<text transform="translate(85.7,527.280701754386) scale(1,1.14)" x="0" y="0" font-size="7.65" fill="#2a2a2a" stroke="#2a2a2a" stroke-width="0.1" text-anchor="end" font-weight="normal" >15-096</text>
<rect x="91.20" y="521.13" width="9.30" height="5.70" fill="#53AD41"/>
<rect x="101.80" y="521.13" width="9.30" height="5.70" fill="#53AD41"/>
<rect x="112.40" y="521.13" width="9.30" height="5.70" fill="#2A5190"/>
<line x1="87.9" y1="531.3771929824561" x2="90.3" y2="531.3771929824561" stroke="#333333" stroke-width="1.0"/>
<text transform="translate(85.7,534.6771929824561) scale(1,1.14)" x="0" y="0" font-size="7.65" fill="#2a2a2a" stroke="#2a2a2a" stroke-width="0.1" text-anchor="end" font-weight="normal" >15-023</text>
<rect x="91.20" y="528.53" width="9.30" height="5.70" fill="#53AD41"/>
<rect x="101.80" y="528.53" width="9.30" height="5.70" fill="#53AD41"/>
<rect x="112.40" y="528.53" width="9.30" height="5.70" fill="#F3943E"/>
<rect x="123.00" y="528.53" width="9.30" height="5.70" fill="#F8CFA7"/>
<line x1="87.9" y1="538.7736842105264" x2="90.3" y2="538.7736842105264" stroke="#333333" stroke-width="1.0"/>
<text transform="translate(85.7,542.0736842105264) scale(1,1.14)" x="0" y="0" font-size="7.65" fill="#2a2a2a" stroke="#2a2a2a" stroke-width="0.1" text-anchor="end" font-weight="normal" >02-065</text>
<text transform="translate(58.6,541.3736842105264) scale(1,1.12)" x="0" y="0" font-size="6.5" fill="#000" stroke="#000" stroke-width="0.1" text-anchor="middle" font-weight="normal" >*</text>
<rect x="91.20" y="535.92" width="9.30" height="5.70" fill="#53AD41"/>
<rect x="101.80" y="535.92" width="9.30" height="5.70" fill="#53AD41"/>
<rect x="112.40" y="535.92" width="9.30" height="5.70" fill="#F8CFA7"/>
<line x1="87.9" y1="546.1701754385965" x2="90.3" y2="546.1701754385965" stroke="#333333" stroke-width="1.0"/>
<text transform="translate(85.7,549.4701754385965) scale(1,1.14)" x="0" y="0" font-size="7.65" fill="#2a2a2a" stroke="#2a2a2a" stroke-width="0.1" text-anchor="end" font-weight="normal" >12-011</text>
<rect x="91.20" y="543.32" width="9.30" height="5.70" fill="#53AD41"/>
<rect x="101.80" y="543.32" width="9.30" height="5.70" fill="#B2D8A4"/>
<line x1="87.9" y1="553.5666666666667" x2="90.3" y2="553.5666666666667" stroke="#333333" stroke-width="1.0"/>
<text transform="translate(85.7,556.8666666666667) scale(1,1.14)" x="0" y="0" font-size="7.65" fill="#2a2a2a" stroke="#2a2a2a" stroke-width="0.1" text-anchor="end" font-weight="normal" >13-012</text>
<rect x="91.20" y="550.72" width="9.30" height="5.70" fill="#53AD41"/>
<rect x="101.80" y="550.72" width="9.30" height="5.70" fill="#53AD41"/>
<line x1="87.9" y1="560.9631578947369" x2="90.3" y2="560.9631578947369" stroke="#333333" stroke-width="1.0"/>
<text transform="translate(85.7,564.2631578947369) scale(1,1.14)" x="0" y="0" font-size="7.65" fill="#2a2a2a" stroke="#2a2a2a" stroke-width="0.1" text-anchor="end" font-weight="normal" >13-101</text>
<rect x="91.20" y="558.11" width="9.30" height="5.70" fill="#53AD41"/>
<rect x="101.80" y="558.11" width="9.30" height="5.70" fill="#53AD41"/>
<line x1="87.9" y1="568.359649122807" x2="90.3" y2="568.359649122807" stroke="#333333" stroke-width="1.0"/>
<text transform="translate(85.7,571.659649122807) scale(1,1.14)" x="0" y="0" font-size="7.65" fill="#2a2a2a" stroke="#2a2a2a" stroke-width="0.1" text-anchor="end" font-weight="normal" >01-095</text>
<text transform="translate(58.6,570.959649122807) scale(1,1.12)" x="0" y="0" font-size="6.5" fill="#000" stroke="#000" stroke-width="0.1" text-anchor="middle" font-weight="normal" >*</text>
<rect x="91.20" y="565.51" width="9.30" height="5.70" fill="#53AD41"/>
<rect x="101.80" y="565.51" width="9.30" height="5.70" fill="#53AD41"/>
<line x1="87.9" y1="575.7561403508772" x2="90.3" y2="575.7561403508772" stroke="#333333" stroke-width="1.0"/>
<text transform="translate(85.7,579.0561403508772) scale(1,1.14)" x="0" y="0" font-size="7.65" fill="#2a2a2a" stroke="#2a2a2a" stroke-width="0.1" text-anchor="end" font-weight="normal" >02-083</text>
<text transform="translate(58.6,578.3561403508772) scale(1,1.12)" x="0" y="0" font-size="6.5" fill="#000" stroke="#000" stroke-width="0.1" text-anchor="middle" font-weight="normal" >*</text>
<rect x="91.20" y="572.91" width="9.30" height="5.70" fill="#53AD41"/>
<rect x="101.80" y="572.91" width="9.30" height="5.70" fill="#B2D8A4"/>
<line x1="87.9" y1="583.1526315789474" x2="90.3" y2="583.1526315789474" stroke="#333333" stroke-width="1.0"/>
<text transform="translate(85.7,586.4526315789474) scale(1,1.14)" x="0" y="0" font-size="7.65" fill="#2a2a2a" stroke="#2a2a2a" stroke-width="0.1" text-anchor="end" font-weight="normal" >06-047</text>
<text transform="translate(58.6,585.7526315789474) scale(1,1.12)" x="0" y="0" font-size="6.5" fill="#000" stroke="#000" stroke-width="0.1" text-anchor="middle" font-weight="normal" >*</text>
<rect x="91.20" y="580.30" width="9.30" height="5.70" fill="#53AD41"/>
<rect x="101.80" y="580.30" width="9.30" height="5.70" fill="#B2D8A4"/>
<line x1="87.9" y1="590.5491228070175" x2="90.3" y2="590.5491228070175" stroke="#333333" stroke-width="1.0"/>
<text transform="translate(85.7,593.8491228070175) scale(1,1.14)" x="0" y="0" font-size="7.65" fill="#2a2a2a" stroke="#2a2a2a" stroke-width="0.1" text-anchor="end" font-weight="normal" >15-090</text>
<rect x="91.20" y="587.70" width="9.30" height="5.70" fill="#53AD41"/>
<rect x="101.80" y="587.70" width="9.30" height="5.70" fill="#A4B3CF"/>
<line x1="87.9" y1="597.9456140350878" x2="90.3" y2="597.9456140350878" stroke="#333333" stroke-width="1.0"/>
<text transform="translate(85.7,601.2456140350878) scale(1,1.14)" x="0" y="0" font-size="7.65" fill="#2a2a2a" stroke="#2a2a2a" stroke-width="0.1" text-anchor="end" font-weight="normal" >01-120</text>
<rect x="91.20" y="595.10" width="9.30" height="5.70" fill="#53AD41"/>
<rect x="101.80" y="595.10" width="9.30" height="5.70" fill="#F8CFA7"/>
<line x1="87.9" y1="605.3421052631579" x2="90.3" y2="605.3421052631579" stroke="#333333" stroke-width="1.0"/>
<text transform="translate(85.7,608.6421052631579) scale(1,1.14)" x="0" y="0" font-size="7.65" fill="#2a2a2a" stroke="#2a2a2a" stroke-width="0.1" text-anchor="end" font-weight="normal" >16-101</text>
<rect x="91.20" y="602.49" width="9.30" height="5.70" fill="#F8CFA7"/>
<rect x="101.80" y="602.49" width="9.30" height="5.70" fill="#A4B3CF"/>
<line x1="87.9" y1="612.7385964912281" x2="90.3" y2="612.7385964912281" stroke="#333333" stroke-width="1.0"/>
<text transform="translate(85.7,616.0385964912281) scale(1,1.14)" x="0" y="0" font-size="7.65" fill="#2a2a2a" stroke="#2a2a2a" stroke-width="0.1" text-anchor="end" font-weight="normal" >13-042</text>
<rect x="91.20" y="609.89" width="9.30" height="5.70" fill="#F3943E"/>
<rect x="101.80" y="609.89" width="9.30" height="5.70" fill="#B2D8A4"/>
<line x1="87.9" y1="620.1350877192983" x2="90.3" y2="620.1350877192983" stroke="#333333" stroke-width="1.0"/>
<text transform="translate(85.7,623.4350877192983) scale(1,1.14)" x="0" y="0" font-size="7.65" fill="#2a2a2a" stroke="#2a2a2a" stroke-width="0.1" text-anchor="end" font-weight="normal" >03-082</text>
<text transform="translate(58.6,622.7350877192983) scale(1,1.12)" x="0" y="0" font-size="6.5" fill="#000" stroke="#000" stroke-width="0.1" text-anchor="middle" font-weight="normal" >*</text>
<rect x="91.20" y="617.29" width="9.30" height="5.70" fill="#F3943E"/>
<rect x="101.80" y="617.29" width="9.30" height="5.70" fill="#F3943E"/>
<rect x="112.40" y="617.29" width="9.30" height="5.70" fill="#2A5190"/>
<line x1="87.9" y1="627.5315789473684" x2="90.3" y2="627.5315789473684" stroke="#333333" stroke-width="1.0"/>
<text transform="translate(85.7,630.8315789473684) scale(1,1.14)" x="0" y="0" font-size="7.65" fill="#2a2a2a" stroke="#2a2a2a" stroke-width="0.1" text-anchor="end" font-weight="normal" >17-043</text>
<rect x="91.20" y="624.68" width="9.30" height="5.70" fill="#F3943E"/>
<rect x="101.80" y="624.68" width="9.30" height="5.70" fill="#F8CFA7"/>
<rect x="112.40" y="624.68" width="9.30" height="5.70" fill="#B2D8A4"/>
<line x1="87.9" y1="634.9280701754386" x2="90.3" y2="634.9280701754386" stroke="#333333" stroke-width="1.0"/>
<text transform="translate(85.7,638.2280701754386) scale(1,1.14)" x="0" y="0" font-size="7.65" fill="#2a2a2a" stroke="#2a2a2a" stroke-width="0.1" text-anchor="end" font-weight="normal" >05-165</text>
<rect x="91.20" y="632.08" width="9.30" height="5.70" fill="#F3943E"/>
<rect x="101.80" y="632.08" width="9.30" height="5.70" fill="#F3943E"/>
<line x1="87.9" y1="642.3245614035088" x2="90.3" y2="642.3245614035088" stroke="#333333" stroke-width="1.0"/>
<text transform="translate(85.7,645.6245614035088) scale(1,1.14)" x="0" y="0" font-size="7.65" fill="#2a2a2a" stroke="#2a2a2a" stroke-width="0.1" text-anchor="end" font-weight="normal" >16-071</text>
<rect x="91.20" y="639.47" width="9.30" height="5.70" fill="#F3943E"/>
<rect x="101.80" y="639.47" width="9.30" height="5.70" fill="#F3943E"/>
<line x1="87.9" y1="649.7210526315789" x2="90.3" y2="649.7210526315789" stroke="#333333" stroke-width="1.0"/>
<text transform="translate(85.7,653.0210526315789) scale(1,1.14)" x="0" y="0" font-size="7.65" fill="#2a2a2a" stroke="#2a2a2a" stroke-width="0.1" text-anchor="end" font-weight="normal" >18-078</text>
<rect x="91.20" y="646.87" width="9.30" height="5.70" fill="#F8CFA7"/>
<rect x="101.80" y="646.87" width="9.30" height="5.70" fill="#F8CFA7"/>
<line x1="87.9" y1="657.1175438596492" x2="90.3" y2="657.1175438596492" stroke="#333333" stroke-width="1.0"/>
<text transform="translate(85.7,660.4175438596492) scale(1,1.14)" x="0" y="0" font-size="7.65" fill="#2a2a2a" stroke="#2a2a2a" stroke-width="0.1" text-anchor="end" font-weight="normal" >03-130</text>
<text transform="translate(58.6,659.7175438596493) scale(1,1.12)" x="0" y="0" font-size="6.5" fill="#000" stroke="#000" stroke-width="0.1" text-anchor="middle" font-weight="normal" >*</text>
<rect x="91.20" y="654.27" width="9.30" height="5.70" fill="#F3943E"/>
<rect x="101.80" y="654.27" width="9.30" height="5.70" fill="#F3943E"/>
<line x1="87.9" y1="664.5140350877193" x2="90.3" y2="664.5140350877193" stroke="#333333" stroke-width="1.0"/>
<text transform="translate(85.7,667.8140350877193) scale(1,1.14)" x="0" y="0" font-size="7.65" fill="#2a2a2a" stroke="#2a2a2a" stroke-width="0.1" text-anchor="end" font-weight="normal" >99-091</text>
<text transform="translate(58.6,667.1140350877193) scale(1,1.12)" x="0" y="0" font-size="6.5" fill="#000" stroke="#000" stroke-width="0.1" text-anchor="middle" font-weight="normal" >*</text>
<rect x="91.20" y="661.66" width="9.30" height="5.70" fill="#F3943E"/>
<rect x="101.80" y="661.66" width="9.30" height="5.70" fill="#F3943E"/>
<rect x="112.40" y="661.66" width="9.30" height="5.70" fill="#F3943E"/>
<rect x="123.00" y="661.66" width="9.30" height="5.70" fill="#53AD41"/>
<rect x="133.60" y="661.66" width="9.30" height="5.70" fill="#53AD41"/>
<rect x="144.20" y="661.66" width="9.30" height="5.70" fill="#2A5190"/>
<line x1="87.9" y1="671.9105263157895" x2="90.3" y2="671.9105263157895" stroke="#333333" stroke-width="1.0"/>
<text transform="translate(85.7,675.2105263157895) scale(1,1.14)" x="0" y="0" font-size="7.65" fill="#2a2a2a" stroke="#2a2a2a" stroke-width="0.1" text-anchor="end" font-weight="normal" >04-112</text>
<text transform="translate(58.6,674.5105263157895) scale(1,1.12)" x="0" y="0" font-size="6.5" fill="#000" stroke="#000" stroke-width="0.1" text-anchor="middle" font-weight="normal" >*</text>
<rect x="91.20" y="669.06" width="9.30" height="5.70" fill="#F3943E"/>
<rect x="101.80" y="669.06" width="9.30" height="5.70" fill="#F3943E"/>
<rect x="112.40" y="669.06" width="9.30" height="5.70" fill="#F3943E"/>
<rect x="123.00" y="669.06" width="9.30" height="5.70" fill="#53AD41"/>
<line x1="87.9" y1="679.3070175438597" x2="90.3" y2="679.3070175438597" stroke="#333333" stroke-width="1.0"/>
<text transform="translate(85.7,682.6070175438597) scale(1,1.14)" x="0" y="0" font-size="7.65" fill="#2a2a2a" stroke="#2a2a2a" stroke-width="0.1" text-anchor="end" font-weight="normal" >19-045</text>
<rect x="91.20" y="676.46" width="9.30" height="5.70" fill="#F3943E"/>
<rect x="101.80" y="676.46" width="9.30" height="5.70" fill="#F3943E"/>
<rect x="112.40" y="676.46" width="9.30" height="5.70" fill="#F3943E"/>
<line x1="87.9" y1="686.7035087719298" x2="90.3" y2="686.7035087719298" stroke="#333333" stroke-width="1.0"/>
<text transform="translate(85.7,690.0035087719298) scale(1,1.14)" x="0" y="0" font-size="7.65" fill="#2a2a2a" stroke="#2a2a2a" stroke-width="0.1" text-anchor="end" font-weight="normal" >12-021</text>
<rect x="91.20" y="683.85" width="9.30" height="5.70" fill="#F3943E"/>
<rect x="101.80" y="683.85" width="9.30" height="5.70" fill="#F3943E"/>
<rect x="112.40" y="683.85" width="9.30" height="5.70" fill="#F3943E"/>
<rect x="123.00" y="683.85" width="9.30" height="5.70" fill="#F3943E"/>
<line x1="87.9" y1="694.1" x2="90.3" y2="694.1" stroke="#333333" stroke-width="1.0"/>
<text transform="translate(85.7,697.4) scale(1,1.14)" x="0" y="0" font-size="7.65" fill="#2a2a2a" stroke="#2a2a2a" stroke-width="0.1" text-anchor="end" font-weight="normal" >14-053</text>
<rect x="91.20" y="691.25" width="9.30" height="5.70" fill="#F3943E"/>
<rect x="101.80" y="691.25" width="9.30" height="5.70" fill="#F3943E"/>
<rect x="112.40" y="691.25" width="9.30" height="5.70" fill="#F3943E"/>
<rect x="123.00" y="691.25" width="9.30" height="5.70" fill="#F3943E"/>
<rect x="133.60" y="691.25" width="9.30" height="5.70" fill="#F8CFA7"/>
<line x1="90.3" y1="268.5" x2="90.3" y2="698.5" stroke="#111" stroke-width="1.2"/>
<line x1="89.7" y1="698.5" x2="164.6" y2="698.5" stroke="#111" stroke-width="1.2"/>
<line x1="90.3" y1="698.5" x2="90.3" y2="700.7" stroke="#333333" stroke-width="1.0"/>
<text transform="translate(90.3,709.18) scale(1,1.12)" x="0" y="0" font-size="8" fill="#2A2A2A" stroke="#2A2A2A" stroke-width="0.1" text-anchor="middle" font-weight="normal" >0</text>
<line x1="111.5" y1="698.5" x2="111.5" y2="700.7" stroke="#333333" stroke-width="1.0"/>
<text transform="translate(111.5,709.18) scale(1,1.12)" x="0" y="0" font-size="8" fill="#2A2A2A" stroke="#2A2A2A" stroke-width="0.1" text-anchor="middle" font-weight="normal" >2</text>
<line x1="132.7" y1="698.5" x2="132.7" y2="700.7" stroke="#333333" stroke-width="1.0"/>
<text transform="translate(132.7,709.18) scale(1,1.12)" x="0" y="0" font-size="8" fill="#2A2A2A" stroke="#2A2A2A" stroke-width="0.1" text-anchor="middle" font-weight="normal" >4</text>
<line x1="153.89999999999998" y1="698.5" x2="153.89999999999998" y2="700.7" stroke="#333333" stroke-width="1.0"/>
<text transform="translate(153.89999999999998,709.18) scale(1,1.12)" x="0" y="0" font-size="8" fill="#2A2A2A" stroke="#2A2A2A" stroke-width="0.1" text-anchor="middle" font-weight="normal" >6</text>
<text x="127" y="721.2" font-size="10.3" fill="#000" stroke="#000" stroke-width="0.08" text-anchor="middle" font-weight="normal" >Count</text>
<text transform="translate(52.5,483) rotate(-90)" font-size="10.2" fill="#000" stroke="#000" stroke-width="0.08" text-anchor="middle">Patient</text>
<text x="148.7" y="317.7" font-size="10.5" fill="#000" stroke="#000" stroke-width="0.08" text-anchor="start" font-weight="normal" >PAM50</text>
<rect x="149.70" y="325.30" width="13.80" height="5.80" fill="#2A5190"/>
<text transform="translate(170.8,332.0) scale(1,1.06)" x="0" y="0" font-size="9.3" fill="#000" stroke="#000" stroke-width="0.08" text-anchor="start" font-weight="normal" >LumA</text>
<rect x="149.70" y="334.00" width="13.80" height="5.80" fill="#53AD41"/>
<text transform="translate(170.8,340.65) scale(1,1.06)" x="0" y="0" font-size="9.3" fill="#000" stroke="#000" stroke-width="0.08" text-anchor="start" font-weight="normal" >LumB</text>
<rect x="149.70" y="342.70" width="13.80" height="5.80" fill="#F3943E"/>
<text transform="translate(170.8,349.3) scale(1,1.06)" x="0" y="0" font-size="9.3" fill="#000" stroke="#000" stroke-width="0.08" text-anchor="start" font-weight="normal" >Basal</text>
<text x="150.7" y="369.6" font-size="10.3" fill="#000" stroke="#000" stroke-width="0.08" text-anchor="start" font-weight="normal" >Confidence</text>
<rect x="150.70" y="376.70" width="15.30" height="7.30" fill="#A9A9A9"/>
<text transform="translate(172,384) scale(1,1.06)" x="0" y="0" font-size="9.5" fill="#000" stroke="#000" stroke-width="0.08" text-anchor="start" font-weight="normal" >&lt;0.75</text>
<rect x="150.70" y="386.00" width="15.30" height="7.30" fill="#555555"/>
<text transform="translate(172,392.6) scale(1,1.06)" x="0" y="0" font-size="9.5" fill="#000" stroke="#000" stroke-width="0.08" text-anchor="start" font-weight="normal" >≥0.75</text>
<text x="149.5" y="412.5" font-size="11.2" fill="#000" stroke="#000" stroke-width="0.08" text-anchor="start" font-weight="normal" >Microarray</text>
<text x="211.2" y="415.5" font-size="11.5" fill="#000" stroke="#000" stroke-width="0.15" text-anchor="middle" font-weight="normal" >*</text>
</svg></body></html>
